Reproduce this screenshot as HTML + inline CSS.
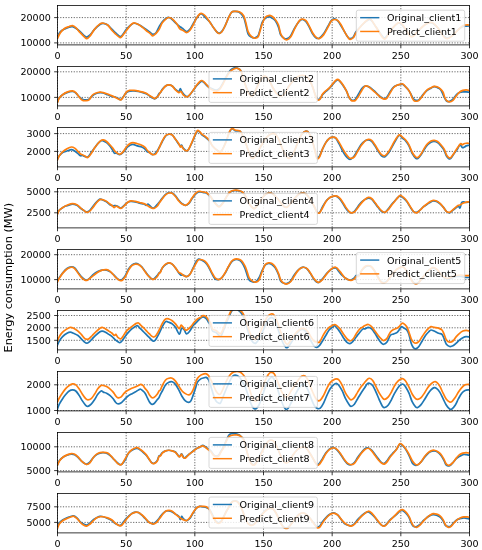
<!DOCTYPE html>
<html><head><meta charset="utf-8"><style>
html,body{margin:0;padding:0;background:#fff;width:482px;height:550px;overflow:hidden}
svg{display:block}
#w{filter:none;width:482px;height:550px}
.t{font-family:"DejaVu Sans","Liberation Sans",sans-serif;font-size:9.56px;fill:#000}
.gr{stroke:#000;stroke-width:1.0;stroke-opacity:0.6;stroke-dasharray:1.2 1.5;fill:none}
</style></head><body><div id="w">
<svg width="482" height="550" viewBox="0 0 482 550">
<rect width="482" height="550" fill="#fff"/>
<defs>
<clipPath id="c0"><rect x="57.5" y="5.4" width="412.0" height="39.5"/></clipPath>
<clipPath id="c1"><rect x="57.5" y="66.4" width="412.0" height="39.5"/></clipPath>
<clipPath id="c2"><rect x="57.5" y="127.4" width="412.0" height="39.5"/></clipPath>
<clipPath id="c3"><rect x="57.5" y="188.4" width="412.0" height="39.5"/></clipPath>
<clipPath id="c4"><rect x="57.5" y="249.4" width="412.0" height="39.5"/></clipPath>
<clipPath id="c5"><rect x="57.5" y="310.4" width="412.0" height="39.5"/></clipPath>
<clipPath id="c6"><rect x="57.5" y="371.4" width="412.0" height="39.5"/></clipPath>
<clipPath id="c7"><rect x="57.5" y="432.4" width="412.0" height="39.5"/></clipPath>
<clipPath id="c8"><rect x="57.5" y="493.4" width="412.0" height="39.5"/></clipPath>
</defs>
<g>
<g><line x1="57.50" y1="5.4" x2="57.50" y2="44.9" class="gr"/><line x1="126.17" y1="5.4" x2="126.17" y2="44.9" class="gr"/><line x1="194.83" y1="5.4" x2="194.83" y2="44.9" class="gr"/><line x1="263.50" y1="5.4" x2="263.50" y2="44.9" class="gr"/><line x1="332.17" y1="5.4" x2="332.17" y2="44.9" class="gr"/><line x1="400.83" y1="5.4" x2="400.83" y2="44.9" class="gr"/><line x1="469.50" y1="5.4" x2="469.50" y2="44.9" class="gr"/><line x1="57.5" y1="17.6" x2="469.5" y2="17.6" class="gr"/><line x1="57.5" y1="42.9" x2="469.5" y2="42.9" class="gr"/><path d="M57.50,36.21 C57.98,35.44 59.18,32.80 60.40,31.59 C61.61,30.38 63.33,29.68 64.80,28.95 C66.26,28.22 67.91,27.56 69.20,27.19 C70.48,26.82 71.39,26.57 72.49,26.75 C73.59,26.93 74.51,27.48 75.79,28.29 C77.08,29.10 78.72,30.31 80.19,31.59 C81.66,32.87 83.49,35.07 84.59,35.99 C85.69,36.90 85.87,37.27 86.79,37.09 C87.70,36.90 88.80,36.17 90.09,34.89 C91.37,33.61 92.84,31.11 94.49,29.39 C96.13,27.67 98.52,25.54 99.98,24.55 C101.45,23.56 102.00,23.38 103.28,23.45 C104.57,23.53 106.21,24.00 107.68,24.99 C109.15,25.98 110.80,28.11 112.08,29.39 C113.36,30.67 114.09,31.52 115.38,32.69 C116.66,33.86 118.68,35.95 119.78,36.43 C120.88,36.90 120.88,36.72 121.98,35.55 C123.07,34.37 124.91,31.15 126.37,29.39 C127.84,27.63 129.49,26.02 130.77,24.99 C132.05,23.97 132.79,23.31 134.07,23.23 C135.35,23.16 137.00,23.89 138.47,24.55 C139.93,25.21 141.58,26.38 142.87,27.19 C144.15,28.00 144.88,28.47 146.17,29.39 C147.45,30.31 149.46,31.88 150.56,32.69 C151.66,33.50 151.85,34.23 152.76,34.23 C153.68,34.23 154.99,33.95 156.06,32.69 C157.13,31.42 158.14,28.47 159.18,26.64 C160.22,24.81 161.05,23.14 162.30,21.69 C163.55,20.25 165.60,18.65 166.70,17.95 C167.80,17.26 167.98,17.26 168.90,17.51 C169.81,17.77 170.91,18.43 172.20,19.49 C173.48,20.56 175.22,22.65 176.59,23.89 C177.97,25.14 179.43,26.20 180.44,26.97 C181.45,27.74 181.63,27.74 182.64,28.51 C183.65,29.28 185.30,31.44 186.49,31.59 C187.68,31.74 188.69,30.67 189.79,29.39 C190.89,28.11 191.99,25.72 193.09,23.89 C194.19,22.06 195.29,19.97 196.39,18.39 C197.49,16.82 198.77,15.17 199.68,14.44 C200.60,13.70 200.97,13.52 201.88,14.00 C202.80,14.47 203.90,16.01 205.18,17.29 C206.47,18.58 208.11,19.86 209.58,21.69 C211.05,23.53 212.51,26.38 213.98,28.29 C215.45,30.20 217.09,32.58 218.38,33.13 C219.66,33.68 220.58,32.76 221.68,31.59 C222.78,30.42 223.88,28.29 224.98,26.09 C226.07,23.89 227.17,20.70 228.27,18.39 C229.37,16.09 230.47,13.41 231.57,12.24 C232.67,11.06 233.59,11.36 234.87,11.36 C236.15,11.36 237.80,11.25 239.27,12.24 C240.74,13.23 242.57,15.17 243.67,17.29 C244.77,19.42 245.13,22.24 245.87,24.99 C246.60,27.74 247.15,31.77 248.07,33.79 C248.98,35.80 250.27,36.43 251.37,37.09 C252.46,37.75 253.56,37.93 254.66,37.75 C255.76,37.56 257.05,37.38 257.96,35.99 C258.88,34.59 259.46,31.68 260.16,29.39 C260.86,27.10 261.32,24.08 262.18,22.24 C263.04,20.41 264.23,19.33 265.30,18.39 C266.37,17.46 267.50,16.71 268.60,16.63 C269.70,16.56 270.80,17.29 271.90,17.95 C273.00,18.61 274.10,19.05 275.20,20.59 C276.29,22.13 277.58,24.81 278.49,27.19 C279.41,29.57 279.78,33.06 280.69,34.89 C281.61,36.72 282.89,37.56 283.99,38.19 C285.09,38.81 286.19,38.99 287.29,38.63 C288.39,38.26 289.49,37.53 290.59,35.99 C291.69,34.45 292.79,31.41 293.89,29.39 C294.99,27.37 296.09,25.43 297.19,23.89 C298.29,22.35 299.57,20.89 300.49,20.15 C301.40,19.42 301.77,19.24 302.68,19.49 C303.60,19.75 304.88,20.41 305.98,21.69 C307.08,22.98 308.18,25.17 309.28,27.19 C310.38,29.21 311.48,32.03 312.58,33.79 C313.68,35.55 314.78,37.01 315.88,37.75 C316.98,38.48 317.90,38.85 319.18,38.19 C320.46,37.53 322.11,35.80 323.58,33.79 C325.04,31.77 326.69,28.29 327.98,26.09 C329.26,23.89 330.17,21.80 331.27,20.59 C332.37,19.38 333.47,18.76 334.57,18.83 C335.67,18.91 336.77,19.82 337.87,21.03 C338.97,22.24 340.07,24.33 341.17,26.09 C342.27,27.85 343.37,29.76 344.47,31.59 C345.57,33.42 346.85,35.91 347.77,37.09 C348.68,38.26 349.05,38.63 349.97,38.63 C350.88,38.63 352.25,38.23 353.27,37.09 C354.28,35.95 354.61,33.81 356.06,31.79 C357.52,29.78 360.01,26.97 362.00,25.00 C363.99,23.03 366.50,20.83 368.00,20.00 C369.50,19.17 369.67,18.83 371.00,20.00 C372.33,21.17 374.00,24.17 376.00,27.00 C378.00,29.83 381.33,35.33 383.00,37.00 C384.67,38.67 384.67,38.17 386.00,37.00 C387.33,35.83 389.00,32.33 391.00,30.00 C393.00,27.67 396.17,23.83 398.00,23.00 C399.83,22.17 400.33,23.33 402.00,25.00 C403.67,26.67 406.33,31.17 408.00,33.00 C409.67,34.83 410.33,36.33 412.00,36.00 C413.67,35.67 415.67,33.00 418.00,31.00 C420.33,29.00 423.67,25.33 426.00,24.00 C428.33,22.67 430.00,22.33 432.00,23.00 C434.00,23.67 436.00,25.83 438.00,28.00 C440.00,30.17 442.33,34.33 444.00,36.00 C445.67,37.67 446.50,38.17 448.00,38.00 C449.50,37.83 451.17,36.50 453.00,35.00 C454.83,33.50 457.33,30.42 459.00,29.00 C460.67,27.58 461.83,26.97 463.00,26.50 C464.17,26.03 464.92,26.28 466.00,26.20 C467.08,26.12 468.92,26.03 469.50,26.00" fill="none" stroke="#1f77b4" stroke-width="1.7" stroke-linejoin="round" stroke-linecap="square" clip-path="url(#c0)"/><path d="M57.50,38.41 C57.98,37.45 59.18,34.37 60.40,32.69 C61.61,31.00 63.33,29.32 64.80,28.29 C66.26,27.26 67.91,26.97 69.20,26.53 C70.48,26.09 71.39,25.47 72.49,25.65 C73.59,25.83 74.51,26.46 75.79,27.63 C77.08,28.80 78.72,31.11 80.19,32.69 C81.66,34.26 83.49,36.10 84.59,37.09 C85.69,38.08 85.87,38.81 86.79,38.63 C87.70,38.44 88.80,37.53 90.09,35.99 C91.37,34.45 92.84,31.41 94.49,29.39 C96.13,27.37 98.52,24.92 99.98,23.89 C101.45,22.87 102.00,23.05 103.28,23.23 C104.57,23.42 106.21,23.78 107.68,24.99 C109.15,26.20 110.80,29.02 112.08,30.49 C113.36,31.96 114.09,32.62 115.38,33.79 C116.66,34.96 118.68,37.09 119.78,37.53 C120.88,37.97 120.88,37.60 121.98,36.43 C123.07,35.25 124.91,32.40 126.37,30.49 C127.84,28.58 129.49,26.27 130.77,24.99 C132.05,23.71 132.79,22.87 134.07,22.79 C135.35,22.72 137.00,23.75 138.47,24.55 C139.93,25.36 141.58,26.64 142.87,27.63 C144.15,28.62 144.88,29.46 146.17,30.49 C147.45,31.52 149.46,32.87 150.56,33.79 C151.66,34.70 151.85,36.06 152.76,35.99 C153.68,35.91 154.99,34.45 156.06,33.35 C157.13,32.25 158.14,31.15 159.18,29.39 C160.22,27.63 161.05,24.63 162.30,22.79 C163.55,20.96 165.60,19.27 166.70,18.39 C167.80,17.51 167.98,17.44 168.90,17.51 C169.81,17.59 170.91,17.84 172.20,18.83 C173.48,19.82 175.31,21.77 176.59,23.45 C177.88,25.14 178.79,27.78 179.89,28.95 C180.99,30.12 182.09,29.87 183.19,30.49 C184.29,31.11 185.39,32.69 186.49,32.69 C187.59,32.69 188.69,31.77 189.79,30.49 C190.89,29.21 191.99,27.01 193.09,24.99 C194.19,22.98 195.29,20.23 196.39,18.39 C197.49,16.56 198.77,14.80 199.68,14.00 C200.60,13.19 200.97,13.26 201.88,13.56 C202.80,13.85 203.90,14.40 205.18,15.76 C206.47,17.11 208.11,19.60 209.58,21.69 C211.05,23.78 212.51,26.35 213.98,28.29 C215.45,30.23 217.09,32.73 218.38,33.35 C219.66,33.97 220.58,33.24 221.68,32.03 C222.78,30.82 223.88,28.36 224.98,26.09 C226.07,23.82 227.17,20.70 228.27,18.39 C229.37,16.09 230.47,13.41 231.57,12.24 C232.67,11.06 233.59,11.43 234.87,11.36 C236.15,11.28 237.80,11.06 239.27,11.80 C240.74,12.53 242.57,13.92 243.67,15.76 C244.77,17.59 245.13,20.15 245.87,22.79 C246.60,25.43 247.15,29.32 248.07,31.59 C248.98,33.86 250.27,35.33 251.37,36.43 C252.46,37.53 253.56,38.08 254.66,38.19 C255.76,38.30 257.05,38.37 257.96,37.09 C258.88,35.80 259.46,32.69 260.16,30.49 C260.86,28.29 261.32,26.09 262.18,23.89 C263.04,21.69 264.23,18.69 265.30,17.29 C266.37,15.90 267.50,15.72 268.60,15.54 C269.70,15.35 270.80,15.54 271.90,16.20 C273.00,16.85 274.10,18.03 275.20,19.49 C276.29,20.96 277.58,22.61 278.49,24.99 C279.41,27.37 279.78,31.52 280.69,33.79 C281.61,36.06 282.89,37.64 283.99,38.63 C285.09,39.62 286.19,39.98 287.29,39.73 C288.39,39.47 289.49,38.63 290.59,37.09 C291.69,35.55 292.79,32.69 293.89,30.49 C294.99,28.29 296.09,25.69 297.19,23.89 C298.29,22.10 299.57,20.52 300.49,19.71 C301.40,18.91 301.77,18.91 302.68,19.05 C303.60,19.20 304.88,19.42 305.98,20.59 C307.08,21.77 308.18,24.08 309.28,26.09 C310.38,28.11 311.48,30.86 312.58,32.69 C313.68,34.52 314.78,36.10 315.88,37.09 C316.98,38.08 317.90,38.99 319.18,38.63 C320.46,38.26 322.11,36.79 323.58,34.89 C325.04,32.98 326.69,29.50 327.98,27.19 C329.26,24.88 330.17,22.32 331.27,21.03 C332.37,19.75 333.47,19.57 334.57,19.49 C335.67,19.42 336.77,19.68 337.87,20.59 C338.97,21.51 340.07,23.16 341.17,24.99 C342.27,26.82 343.37,29.57 344.47,31.59 C345.57,33.61 346.85,35.80 347.77,37.09 C348.68,38.37 349.05,39.18 349.97,39.29 C350.88,39.40 352.25,38.82 353.27,37.75 C354.28,36.67 354.61,34.97 356.06,32.84 C357.52,30.72 360.01,27.22 362.00,25.00 C363.99,22.78 366.50,20.42 368.00,19.50 C369.50,18.58 369.67,18.25 371.00,19.50 C372.33,20.75 374.00,23.92 376.00,27.00 C378.00,30.08 381.33,36.17 383.00,38.00 C384.67,39.83 384.67,39.33 386.00,38.00 C387.33,36.67 389.00,32.50 391.00,30.00 C393.00,27.50 396.17,24.00 398.00,23.00 C399.83,22.00 400.33,22.33 402.00,24.00 C403.67,25.67 406.33,30.83 408.00,33.00 C409.67,35.17 410.33,37.33 412.00,37.00 C413.67,36.67 415.67,33.17 418.00,31.00 C420.33,28.83 423.67,25.42 426.00,24.00 C428.33,22.58 430.00,21.83 432.00,22.50 C434.00,23.17 436.00,25.58 438.00,28.00 C440.00,30.42 442.33,35.25 444.00,37.00 C445.67,38.75 446.50,38.83 448.00,38.50 C449.50,38.17 451.17,36.58 453.00,35.00 C454.83,33.42 457.33,30.58 459.00,29.00 C460.67,27.42 461.83,26.17 463.00,25.50 C464.17,24.83 464.92,25.08 466.00,25.00 C467.08,24.92 468.92,25.00 469.50,25.00" fill="none" stroke="#ff7f0e" stroke-width="1.7" stroke-linejoin="round" stroke-linecap="square" clip-path="url(#c0)"/><rect x="356.32000000000005" y="10.2" width="108.4" height="31.0" rx="1.9" fill="#fff" fill-opacity="0.84" stroke="#ccc" stroke-opacity="0.8" stroke-width="0.95"/><line x1="360.15000000000003" y1="17.68" x2="379.28000000000003" y2="17.68" stroke="#1f77b4" stroke-width="1.45"/><line x1="360.15000000000003" y1="31.46" x2="379.28000000000003" y2="31.46" stroke="#ff7f0e" stroke-width="1.45"/><text x="386.9200000000001" y="21.28" class="t">Original_client1</text><text x="386.9200000000001" y="35.06" class="t">Predict_client1</text><rect x="57.5" y="5.4" width="412.0" height="39.5" fill="none" stroke="#000" stroke-width="0.78"/><line x1="54.15" y1="17.6" x2="57.5" y2="17.6" stroke="#000" stroke-width="0.78"/><text x="50.8" y="21.1" class="t" text-anchor="end">20000</text><line x1="54.15" y1="42.9" x2="57.5" y2="42.9" stroke="#000" stroke-width="0.78"/><text x="50.8" y="46.4" class="t" text-anchor="end">10000</text><line x1="57.50" y1="44.9" x2="57.50" y2="48.25" stroke="#000" stroke-width="0.78"/><text x="57.50" y="58.8" class="t" text-anchor="middle">0</text><line x1="126.17" y1="44.9" x2="126.17" y2="48.25" stroke="#000" stroke-width="0.78"/><text x="126.17" y="58.8" class="t" text-anchor="middle">50</text><line x1="194.83" y1="44.9" x2="194.83" y2="48.25" stroke="#000" stroke-width="0.78"/><text x="194.83" y="58.8" class="t" text-anchor="middle">100</text><line x1="263.50" y1="44.9" x2="263.50" y2="48.25" stroke="#000" stroke-width="0.78"/><text x="263.50" y="58.8" class="t" text-anchor="middle">150</text><line x1="332.17" y1="44.9" x2="332.17" y2="48.25" stroke="#000" stroke-width="0.78"/><text x="332.17" y="58.8" class="t" text-anchor="middle">200</text><line x1="400.83" y1="44.9" x2="400.83" y2="48.25" stroke="#000" stroke-width="0.78"/><text x="400.83" y="58.8" class="t" text-anchor="middle">250</text><line x1="469.50" y1="44.9" x2="469.50" y2="48.25" stroke="#000" stroke-width="0.78"/><text x="469.50" y="58.8" class="t" text-anchor="middle">300</text></g>
<g><line x1="57.50" y1="66.4" x2="57.50" y2="105.9" class="gr"/><line x1="126.17" y1="66.4" x2="126.17" y2="105.9" class="gr"/><line x1="194.83" y1="66.4" x2="194.83" y2="105.9" class="gr"/><line x1="263.50" y1="66.4" x2="263.50" y2="105.9" class="gr"/><line x1="332.17" y1="66.4" x2="332.17" y2="105.9" class="gr"/><line x1="400.83" y1="66.4" x2="400.83" y2="105.9" class="gr"/><line x1="469.50" y1="66.4" x2="469.50" y2="105.9" class="gr"/><line x1="57.5" y1="71.8" x2="469.5" y2="71.8" class="gr"/><line x1="57.5" y1="97.4" x2="469.5" y2="97.4" class="gr"/><path d="M57.50,101.83 C57.80,101.20 58.45,99.26 59.30,98.09 C60.15,96.91 61.31,95.70 62.60,94.79 C63.88,93.87 65.35,93.14 67.00,92.59 C68.65,92.04 71.03,91.42 72.49,91.49 C73.96,91.56 74.69,92.19 75.79,93.03 C76.89,93.87 77.99,95.52 79.09,96.55 C80.19,97.57 81.29,98.64 82.39,99.19 C83.49,99.74 84.59,99.85 85.69,99.85 C86.79,99.85 87.89,99.85 88.99,99.19 C90.09,98.53 91.19,96.80 92.29,95.89 C93.39,94.97 94.30,94.24 95.59,93.69 C96.87,93.14 98.70,92.70 99.98,92.59 C101.27,92.48 102.00,92.66 103.28,93.03 C104.57,93.40 106.21,94.20 107.68,94.79 C109.15,95.37 110.80,96.18 112.08,96.55 C113.36,96.91 114.28,96.62 115.38,96.99 C116.48,97.35 117.76,98.31 118.68,98.75 C119.59,99.19 120.14,99.92 120.88,99.63 C121.61,99.33 122.16,98.16 123.07,96.99 C123.99,95.81 125.27,93.58 126.37,92.59 C127.47,91.60 128.39,91.34 129.67,91.05 C130.96,90.76 132.60,90.76 134.07,90.83 C135.54,90.90 137.00,91.20 138.47,91.49 C139.93,91.78 141.58,92.22 142.87,92.59 C144.15,92.96 145.07,93.14 146.17,93.69 C147.27,94.24 148.37,95.15 149.46,95.89 C150.56,96.62 151.85,97.61 152.76,98.09 C153.68,98.56 154.23,98.93 154.96,98.75 C155.70,98.56 156.49,97.83 157.16,96.99 C157.83,96.14 158.45,94.42 159.00,93.69 C159.55,92.96 159.91,93.32 160.46,92.59 C161.01,91.86 161.44,90.39 162.30,89.29 C163.15,88.19 164.50,86.72 165.60,85.99 C166.70,85.26 167.80,84.89 168.90,84.89 C170.00,84.89 171.10,85.26 172.20,85.99 C173.29,86.72 174.39,88.37 175.49,89.29 C176.59,90.21 177.99,91.60 178.79,91.49 C179.60,91.38 179.86,88.63 180.33,88.63 C180.81,88.63 180.99,90.46 181.65,91.49 C182.31,92.52 183.37,93.95 184.29,94.79 C185.21,95.63 186.23,96.55 187.15,96.55 C188.07,96.55 188.80,95.81 189.79,94.79 C190.78,93.76 191.99,91.86 193.09,90.39 C194.19,88.92 195.29,87.27 196.39,85.99 C197.49,84.71 198.77,83.50 199.68,82.69 C200.60,81.89 201.15,81.15 201.88,81.15 C202.62,81.15 203.17,81.89 204.08,82.69 C205.00,83.50 206.31,85.09 207.38,85.99 C208.45,86.89 209.41,87.51 210.51,88.10 C211.61,88.68 212.92,89.18 214.00,89.50 C215.08,89.82 216.00,90.25 217.00,90.00 C218.00,89.75 219.00,89.17 220.00,88.00 C221.00,86.83 222.00,84.83 223.00,83.00 C224.00,81.17 225.00,78.83 226.00,77.00 C227.00,75.17 228.00,73.33 229.00,72.00 C230.00,70.67 230.92,69.72 232.00,69.00 C233.08,68.28 234.50,67.78 235.50,67.70 C236.50,67.62 237.08,67.95 238.00,68.50 C238.92,69.05 240.00,68.92 241.00,71.00 C242.00,73.08 242.83,77.67 244.00,81.00 C245.17,84.33 246.83,88.67 248.00,91.00 C249.17,93.33 250.00,94.67 251.00,95.00 C252.00,95.33 252.83,94.67 254.00,93.00 C255.17,91.33 256.67,87.50 258.00,85.00 C259.33,82.50 260.83,79.50 262.00,78.00 C263.17,76.50 263.83,75.67 265.00,76.00 C266.17,76.33 267.67,78.00 269.00,80.00 C270.33,82.00 271.67,85.83 273.00,88.00 C274.33,90.17 275.67,91.83 277.00,93.00 C278.33,94.17 279.67,95.17 281.00,95.00 C282.33,94.83 283.67,93.50 285.00,92.00 C286.33,90.50 287.50,88.00 289.00,86.00 C290.50,84.00 292.33,81.50 294.00,80.00 C295.67,78.50 297.33,77.67 299.00,77.00 C300.67,76.33 302.33,75.67 304.00,76.00 C305.67,76.33 307.50,77.00 309.00,79.00 C310.50,81.00 311.75,84.86 313.00,88.00 C314.25,91.14 315.39,95.95 316.49,97.81 C317.59,99.68 318.62,99.69 319.62,99.19 C320.62,98.68 321.45,96.07 322.48,94.79 C323.50,93.51 324.68,92.52 325.78,91.49 C326.88,90.46 327.98,89.73 329.07,88.63 C330.17,87.53 331.27,86.14 332.37,84.89 C333.47,83.65 334.76,82.00 335.67,81.15 C336.59,80.31 337.14,79.76 337.87,79.83 C338.60,79.91 339.15,80.57 340.07,81.59 C340.99,82.62 342.27,84.34 343.37,85.99 C344.47,87.64 345.75,89.66 346.67,91.49 C347.58,93.32 348.13,95.63 348.87,96.99 C349.60,98.34 350.33,99.08 351.07,99.63 C351.80,100.18 352.53,100.36 353.27,100.29 C354.00,100.21 354.55,100.29 355.46,99.19 C356.38,98.09 357.66,95.52 358.76,93.69 C359.86,91.86 360.99,89.47 362.06,88.19 C363.13,86.91 364.14,86.25 365.18,85.99 C366.22,85.74 367.23,86.21 368.30,86.65 C369.37,87.09 370.50,87.82 371.60,88.63 C372.70,89.44 373.80,90.46 374.90,91.49 C376.00,92.52 377.10,93.80 378.20,94.79 C379.29,95.78 380.39,96.77 381.49,97.43 C382.59,98.09 383.88,98.82 384.79,98.75 C385.71,98.67 386.08,98.20 386.99,96.99 C387.91,95.78 389.19,93.14 390.29,91.49 C391.39,89.84 392.49,88.12 393.59,87.09 C394.69,86.07 395.79,85.77 396.89,85.33 C397.99,84.89 399.27,84.64 400.19,84.45 C401.10,84.27 401.65,83.98 402.39,84.23 C403.12,84.49 403.67,85.15 404.59,85.99 C405.50,86.83 406.97,88.19 407.88,89.29 C408.80,90.39 409.35,91.31 410.08,92.59 C410.82,93.87 411.55,95.81 412.28,96.99 C413.02,98.16 413.57,99.08 414.48,99.63 C415.40,100.18 416.86,100.43 417.78,100.29 C418.70,100.14 419.06,99.74 419.98,98.75 C420.90,97.76 422.18,95.67 423.28,94.35 C424.38,93.03 425.29,91.86 426.58,90.83 C427.86,89.80 429.69,88.89 430.98,88.19 C432.26,87.49 433.17,86.72 434.27,86.65 C435.37,86.58 436.47,87.20 437.57,87.75 C438.67,88.30 439.86,88.59 440.87,89.95 C441.88,91.31 442.70,94.06 443.62,95.89 C444.54,97.72 445.36,100.03 446.37,100.95 C447.38,101.86 448.57,101.68 449.67,101.39 C450.77,101.09 451.87,100.29 452.97,99.19 C454.07,98.09 455.17,95.89 456.27,94.79 C457.37,93.69 458.46,93.07 459.56,92.59 C460.66,92.11 461.76,92.04 462.86,91.93 C463.96,91.82 465.17,91.89 466.16,91.93 C467.15,91.97 468.36,92.11 468.80,92.15" fill="none" stroke="#1f77b4" stroke-width="1.7" stroke-linejoin="round" stroke-linecap="square" clip-path="url(#c1)"/><path d="M57.50,102.49 C57.80,101.75 58.45,99.37 59.30,98.09 C60.15,96.80 61.31,95.78 62.60,94.79 C63.88,93.80 65.35,92.81 67.00,92.15 C68.65,91.49 71.03,90.76 72.49,90.83 C73.96,90.90 74.69,91.56 75.79,92.59 C76.89,93.62 77.99,95.70 79.09,96.99 C80.19,98.27 81.29,99.66 82.39,100.29 C83.49,100.91 84.59,100.80 85.69,100.73 C86.79,100.65 87.89,100.76 88.99,99.85 C90.09,98.93 91.19,96.33 92.29,95.23 C93.39,94.13 94.30,93.76 95.59,93.25 C96.87,92.74 98.70,92.26 99.98,92.15 C101.27,92.04 102.00,92.26 103.28,92.59 C104.57,92.92 106.21,93.58 107.68,94.13 C109.15,94.68 110.80,95.34 112.08,95.89 C113.36,96.44 114.28,96.88 115.38,97.43 C116.48,97.98 117.76,98.78 118.68,99.19 C119.59,99.59 120.14,100.14 120.88,99.85 C121.61,99.55 122.16,98.71 123.07,97.43 C123.99,96.14 125.27,93.32 126.37,92.15 C127.47,90.98 128.39,90.68 129.67,90.39 C130.96,90.10 132.60,90.28 134.07,90.39 C135.54,90.50 137.00,90.76 138.47,91.05 C139.93,91.34 141.58,91.78 142.87,92.15 C144.15,92.52 145.07,92.70 146.17,93.25 C147.27,93.80 148.37,94.75 149.46,95.45 C150.56,96.14 151.85,96.91 152.76,97.43 C153.68,97.94 154.23,98.60 154.96,98.53 C155.70,98.45 156.49,97.61 157.16,96.99 C157.83,96.36 158.45,95.59 159.00,94.79 C159.55,93.98 159.91,92.96 160.46,92.15 C161.01,91.34 161.44,90.98 162.30,89.95 C163.15,88.92 164.50,86.83 165.60,85.99 C166.70,85.15 167.80,84.89 168.90,84.89 C170.00,84.89 171.10,85.15 172.20,85.99 C173.29,86.83 174.39,88.85 175.49,89.95 C176.59,91.05 177.88,92.33 178.79,92.59 C179.71,92.85 180.26,91.12 180.99,91.49 C181.72,91.86 182.16,93.87 183.19,94.79 C184.22,95.70 186.05,96.99 187.15,96.99 C188.25,96.99 188.80,95.89 189.79,94.79 C190.78,93.69 191.99,91.93 193.09,90.39 C194.19,88.85 195.29,87.02 196.39,85.55 C197.49,84.09 198.77,82.44 199.68,81.59 C200.60,80.75 201.15,80.42 201.88,80.49 C202.62,80.57 203.17,81.19 204.08,82.03 C205.00,82.88 206.31,84.42 207.38,85.55 C208.45,86.68 209.41,87.99 210.51,88.82 C211.61,89.64 212.92,90.14 214.00,90.50 C215.08,90.86 216.00,91.25 217.00,91.00 C218.00,90.75 219.00,90.17 220.00,89.00 C221.00,87.83 222.00,85.83 223.00,84.00 C224.00,82.17 225.00,79.83 226.00,78.00 C227.00,76.17 228.00,74.33 229.00,73.00 C230.00,71.67 230.92,70.78 232.00,70.00 C233.08,69.22 234.50,68.53 235.50,68.30 C236.50,68.07 237.08,68.15 238.00,68.60 C238.92,69.05 240.00,68.93 241.00,71.00 C242.00,73.07 242.83,77.50 244.00,81.00 C245.17,84.50 246.83,89.50 248.00,92.00 C249.17,94.50 250.00,95.67 251.00,96.00 C252.00,96.33 252.83,95.83 254.00,94.00 C255.17,92.17 256.67,87.67 258.00,85.00 C259.33,82.33 260.83,79.50 262.00,78.00 C263.17,76.50 263.83,75.67 265.00,76.00 C266.17,76.33 267.67,78.00 269.00,80.00 C270.33,82.00 271.67,85.67 273.00,88.00 C274.33,90.33 275.67,92.67 277.00,94.00 C278.33,95.33 279.67,96.17 281.00,96.00 C282.33,95.83 283.67,94.67 285.00,93.00 C286.33,91.33 287.50,88.17 289.00,86.00 C290.50,83.83 292.33,81.67 294.00,80.00 C295.67,78.33 297.33,76.75 299.00,76.00 C300.67,75.25 302.33,75.00 304.00,75.50 C305.67,76.00 307.50,76.92 309.00,79.00 C310.50,81.08 311.75,84.73 313.00,88.00 C314.25,91.27 315.39,96.71 316.49,98.64 C317.59,100.58 318.62,100.34 319.62,99.63 C320.62,98.91 321.45,95.81 322.48,94.35 C323.50,92.88 324.68,91.86 325.78,90.83 C326.88,89.80 327.98,89.29 329.07,88.19 C330.17,87.09 331.27,85.52 332.37,84.23 C333.47,82.95 334.76,81.30 335.67,80.49 C336.59,79.69 337.14,79.28 337.87,79.39 C338.60,79.50 339.15,80.13 340.07,81.15 C340.99,82.18 342.27,83.83 343.37,85.55 C344.47,87.27 345.75,89.58 346.67,91.49 C347.58,93.40 348.13,95.52 348.87,96.99 C349.60,98.45 350.33,99.63 351.07,100.29 C351.80,100.95 352.53,100.95 353.27,100.95 C354.00,100.95 354.55,101.13 355.46,100.29 C356.38,99.44 357.66,97.61 358.76,95.89 C359.86,94.17 360.99,91.58 362.06,89.95 C363.13,88.32 364.14,86.69 365.18,86.10 C366.22,85.52 367.23,85.90 368.30,86.43 C369.37,86.96 370.50,88.34 371.60,89.29 C372.70,90.24 373.80,91.16 374.90,92.15 C376.00,93.14 377.10,94.24 378.20,95.23 C379.29,96.22 380.39,97.43 381.49,98.09 C382.59,98.75 383.88,99.19 384.79,99.19 C385.71,99.19 386.08,99.19 386.99,98.09 C387.91,96.99 389.19,94.35 390.29,92.59 C391.39,90.83 392.49,88.74 393.59,87.53 C394.69,86.32 395.79,85.88 396.89,85.33 C397.99,84.78 399.27,84.49 400.19,84.23 C401.10,83.98 401.65,83.57 402.39,83.79 C403.12,84.01 403.67,84.64 404.59,85.55 C405.50,86.47 406.97,88.12 407.88,89.29 C408.80,90.46 409.35,91.12 410.08,92.59 C410.82,94.06 411.55,96.69 412.28,98.09 C413.02,99.48 413.57,100.47 414.48,100.95 C415.40,101.42 416.86,101.24 417.78,100.95 C418.70,100.65 419.06,100.21 419.98,99.19 C420.90,98.16 422.18,96.25 423.28,94.79 C424.38,93.32 425.29,91.56 426.58,90.39 C427.86,89.22 429.69,88.41 430.98,87.75 C432.26,87.09 433.17,86.54 434.27,86.43 C435.37,86.32 436.47,86.61 437.57,87.09 C438.67,87.57 439.96,88.45 440.87,89.29 C441.79,90.13 442.45,90.87 443.07,92.15 C443.69,93.43 444.06,95.63 444.61,96.99 C445.16,98.34 445.53,99.48 446.37,100.29 C447.21,101.09 448.57,101.83 449.67,101.83 C450.77,101.83 451.87,101.28 452.97,100.29 C454.07,99.30 455.17,97.24 456.27,95.89 C457.37,94.53 458.46,93.07 459.56,92.15 C460.66,91.23 461.76,90.76 462.86,90.39 C463.96,90.02 465.17,89.95 466.16,89.95 C467.15,89.95 468.36,90.32 468.80,90.39" fill="none" stroke="#ff7f0e" stroke-width="1.7" stroke-linejoin="round" stroke-linecap="square" clip-path="url(#c1)"/><rect x="209.0" y="71.4" width="108.4" height="31.0" rx="1.9" fill="#fff" fill-opacity="0.84" stroke="#ccc" stroke-opacity="0.8" stroke-width="0.95"/><line x1="212.83" y1="78.88000000000001" x2="231.96" y2="78.88000000000001" stroke="#1f77b4" stroke-width="1.45"/><line x1="212.83" y1="92.66000000000001" x2="231.96" y2="92.66000000000001" stroke="#ff7f0e" stroke-width="1.45"/><text x="239.6" y="82.48" class="t">Original_client2</text><text x="239.6" y="96.26" class="t">Predict_client2</text><rect x="57.5" y="66.4" width="412.0" height="39.5" fill="none" stroke="#000" stroke-width="0.78"/><line x1="54.15" y1="71.8" x2="57.5" y2="71.8" stroke="#000" stroke-width="0.78"/><text x="50.8" y="75.3" class="t" text-anchor="end">20000</text><line x1="54.15" y1="97.4" x2="57.5" y2="97.4" stroke="#000" stroke-width="0.78"/><text x="50.8" y="100.9" class="t" text-anchor="end">10000</text><line x1="57.50" y1="105.9" x2="57.50" y2="109.25" stroke="#000" stroke-width="0.78"/><text x="57.50" y="119.80000000000001" class="t" text-anchor="middle">0</text><line x1="126.17" y1="105.9" x2="126.17" y2="109.25" stroke="#000" stroke-width="0.78"/><text x="126.17" y="119.80000000000001" class="t" text-anchor="middle">50</text><line x1="194.83" y1="105.9" x2="194.83" y2="109.25" stroke="#000" stroke-width="0.78"/><text x="194.83" y="119.80000000000001" class="t" text-anchor="middle">100</text><line x1="263.50" y1="105.9" x2="263.50" y2="109.25" stroke="#000" stroke-width="0.78"/><text x="263.50" y="119.80000000000001" class="t" text-anchor="middle">150</text><line x1="332.17" y1="105.9" x2="332.17" y2="109.25" stroke="#000" stroke-width="0.78"/><text x="332.17" y="119.80000000000001" class="t" text-anchor="middle">200</text><line x1="400.83" y1="105.9" x2="400.83" y2="109.25" stroke="#000" stroke-width="0.78"/><text x="400.83" y="119.80000000000001" class="t" text-anchor="middle">250</text><line x1="469.50" y1="105.9" x2="469.50" y2="109.25" stroke="#000" stroke-width="0.78"/><text x="469.50" y="119.80000000000001" class="t" text-anchor="middle">300</text></g>
<g><line x1="57.50" y1="127.4" x2="57.50" y2="166.9" class="gr"/><line x1="126.17" y1="127.4" x2="126.17" y2="166.9" class="gr"/><line x1="194.83" y1="127.4" x2="194.83" y2="166.9" class="gr"/><line x1="263.50" y1="127.4" x2="263.50" y2="166.9" class="gr"/><line x1="332.17" y1="127.4" x2="332.17" y2="166.9" class="gr"/><line x1="400.83" y1="127.4" x2="400.83" y2="166.9" class="gr"/><line x1="469.50" y1="127.4" x2="469.50" y2="166.9" class="gr"/><line x1="57.5" y1="133.6" x2="469.5" y2="133.6" class="gr"/><line x1="57.5" y1="151.4" x2="469.5" y2="151.4" class="gr"/><path d="M57.50,159.09 C57.80,158.54 58.45,156.89 59.30,155.79 C60.15,154.69 61.31,153.30 62.60,152.49 C63.88,151.68 65.53,151.43 67.00,150.95 C68.46,150.47 70.11,149.63 71.39,149.63 C72.68,149.63 73.59,150.29 74.69,150.95 C75.79,151.61 77.00,152.78 77.99,153.59 C78.98,154.40 79.90,155.50 80.63,155.79 C81.36,156.08 81.73,155.24 82.39,155.35 C83.05,155.46 83.67,156.19 84.59,156.45 C85.51,156.70 86.79,157.55 87.89,156.89 C88.99,156.23 90.09,153.96 91.19,152.49 C92.29,151.02 93.39,149.56 94.49,148.09 C95.59,146.63 96.68,144.90 97.78,143.69 C98.88,142.48 100.17,141.31 101.08,140.83 C102.00,140.36 102.37,140.54 103.28,140.83 C104.20,141.13 105.48,141.75 106.58,142.59 C107.68,143.44 108.85,144.61 109.88,145.89 C110.91,147.17 112.01,149.08 112.74,150.29 C113.47,151.50 113.65,152.67 114.28,153.15 C114.90,153.63 115.56,152.89 116.48,153.15 C117.39,153.41 118.68,154.80 119.78,154.69 C120.88,154.58 121.98,153.59 123.07,152.49 C124.17,151.39 125.27,149.26 126.37,148.09 C127.47,146.92 128.57,146.08 129.67,145.45 C130.77,144.83 131.69,144.28 132.97,144.35 C134.25,144.43 135.90,145.45 137.37,145.89 C138.84,146.33 140.48,146.44 141.77,146.99 C143.05,147.54 144.15,148.38 145.07,149.19 C145.98,150.00 146.53,151.28 147.27,151.83 C148.00,152.38 148.55,152.01 149.46,152.49 C150.38,152.97 151.66,154.69 152.76,154.69 C153.86,154.69 154.99,153.68 156.06,152.49 C157.13,151.30 158.14,149.37 159.18,147.54 C160.22,145.71 161.23,143.42 162.30,141.49 C163.37,139.57 164.50,137.21 165.60,136.00 C166.70,134.79 167.80,134.42 168.90,134.24 C170.00,134.05 171.10,134.05 172.20,134.90 C173.29,135.74 174.39,137.72 175.49,139.29 C176.59,140.87 177.99,143.25 178.79,144.35 C179.60,145.45 179.86,145.75 180.33,145.89 C180.81,146.04 181.17,144.87 181.65,145.23 C182.13,145.60 182.38,147.14 183.19,148.09 C184.00,149.04 185.57,150.77 186.49,150.95 C187.41,151.13 187.77,150.58 188.69,149.19 C189.61,147.80 190.89,144.98 191.99,142.59 C193.09,140.21 194.37,136.80 195.29,134.90 C196.20,132.99 196.75,131.63 197.49,131.16 C198.22,130.68 198.95,131.41 199.68,132.04 C200.42,132.66 200.97,134.05 201.88,134.90 C202.80,135.74 204.08,136.25 205.18,137.10 C206.28,137.94 207.67,139.22 208.48,139.95 C209.29,140.69 209.35,140.49 210.02,141.49 C210.69,142.50 211.25,144.50 212.50,146.00 C213.75,147.50 216.05,149.63 217.50,150.50 C218.95,151.37 219.75,152.75 221.20,151.20 C222.65,149.65 224.85,144.32 226.20,141.20 C227.55,138.08 228.33,134.57 229.30,132.50 C230.27,130.43 231.05,129.12 232.00,128.80 C232.95,128.48 234.00,130.23 235.00,130.60 C236.00,130.97 237.17,130.90 238.00,131.00 C238.83,131.10 239.27,130.53 240.00,131.20 C240.73,131.87 241.40,132.92 242.40,135.00 C243.40,137.08 244.77,140.38 246.00,143.70 C247.23,147.02 248.72,152.52 249.80,154.90 C250.88,157.28 251.47,157.98 252.50,158.00 C253.53,158.02 254.58,157.00 256.00,155.00 C257.42,153.00 259.33,148.83 261.00,146.00 C262.67,143.17 264.33,140.00 266.00,138.00 C267.67,136.00 269.50,134.67 271.00,134.00 C272.50,133.33 273.67,133.00 275.00,134.00 C276.33,135.00 277.67,137.33 279.00,140.00 C280.33,142.67 281.67,147.17 283.00,150.00 C284.33,152.83 285.83,155.67 287.00,157.00 C288.17,158.33 288.83,158.83 290.00,158.00 C291.17,157.17 292.67,154.67 294.00,152.00 C295.33,149.33 296.67,145.00 298.00,142.00 C299.33,139.00 300.67,135.83 302.00,134.00 C303.33,132.17 304.83,131.17 306.00,131.00 C307.17,130.83 308.00,131.50 309.00,133.00 C310.00,134.50 311.00,137.17 312.00,140.00 C313.00,142.83 314.17,147.00 315.00,150.00 C315.83,153.00 316.21,157.02 316.98,157.99 C317.75,158.95 318.70,157.25 319.62,155.79 C320.53,154.32 321.45,151.39 322.48,149.19 C323.50,146.99 324.68,144.35 325.78,142.59 C326.88,140.83 327.98,139.55 329.07,138.63 C330.17,137.72 331.27,137.17 332.37,137.10 C333.47,137.02 334.57,137.10 335.67,138.20 C336.77,139.29 337.87,141.68 338.97,143.69 C340.07,145.71 341.17,148.27 342.27,150.29 C343.37,152.31 344.47,154.32 345.57,155.79 C346.67,157.25 347.95,158.54 348.87,159.09 C349.78,159.64 350.15,159.64 351.07,159.09 C351.98,158.54 353.27,157.25 354.37,155.79 C355.46,154.32 356.56,152.12 357.66,150.29 C358.76,148.46 359.80,146.31 360.96,144.79 C362.12,143.27 363.41,141.97 364.63,141.16 C365.85,140.36 367.14,139.90 368.30,139.95 C369.46,140.01 370.50,140.50 371.60,141.49 C372.70,142.48 373.80,144.24 374.90,145.89 C376.00,147.54 377.10,149.74 378.20,151.39 C379.29,153.04 380.39,154.87 381.49,155.79 C382.59,156.70 383.69,157.25 384.79,156.89 C385.89,156.52 386.99,155.06 388.09,153.59 C389.19,152.12 390.29,150.00 391.39,148.09 C392.49,146.19 393.59,144.10 394.69,142.15 C395.79,140.21 397.14,137.57 397.99,136.44 C398.83,135.30 399.01,135.04 399.75,135.34 C400.48,135.63 401.40,137.28 402.39,138.20 C403.38,139.11 404.59,139.55 405.68,140.83 C406.78,142.12 407.88,143.77 408.98,145.89 C410.08,148.02 411.18,151.57 412.28,153.59 C413.38,155.61 414.66,157.18 415.58,157.99 C416.50,158.79 416.86,158.98 417.78,158.43 C418.70,157.88 419.98,156.23 421.08,154.69 C422.18,153.15 423.28,150.84 424.38,149.19 C425.48,147.54 426.58,145.97 427.68,144.79 C428.78,143.62 429.88,142.70 430.98,142.15 C432.07,141.60 433.17,141.42 434.27,141.49 C435.37,141.57 436.47,141.86 437.57,142.59 C438.67,143.33 439.77,144.61 440.87,145.89 C441.97,147.17 443.25,148.64 444.17,150.29 C445.09,151.94 445.64,154.43 446.37,155.79 C447.10,157.14 447.84,157.99 448.57,158.43 C449.30,158.87 449.85,159.23 450.77,158.43 C451.68,157.62 452.97,155.13 454.07,153.59 C455.17,152.05 456.38,150.66 457.37,149.19 C458.35,147.72 459.18,145.07 460.00,144.79 C460.83,144.52 461.58,147.17 462.31,147.54 C463.05,147.91 463.76,147.27 464.40,146.99 C465.04,146.72 465.43,146.19 466.16,145.89 C466.89,145.60 468.36,145.34 468.80,145.23" fill="none" stroke="#1f77b4" stroke-width="1.7" stroke-linejoin="round" stroke-linecap="square" clip-path="url(#c2)"/><path d="M57.50,159.75 C57.80,159.09 58.45,157.11 59.30,155.79 C60.15,154.47 61.31,153.00 62.60,151.83 C63.88,150.66 65.53,149.56 67.00,148.75 C68.46,147.94 70.11,147.10 71.39,146.99 C72.68,146.88 73.59,147.36 74.69,148.09 C75.79,148.82 77.00,150.40 77.99,151.39 C78.98,152.38 79.90,153.48 80.63,154.03 C81.36,154.58 81.73,154.40 82.39,154.69 C83.05,154.98 83.67,155.31 84.59,155.79 C85.51,156.26 86.79,157.91 87.89,157.55 C88.99,157.18 90.09,155.17 91.19,153.59 C92.29,152.01 93.39,149.74 94.49,148.09 C95.59,146.44 96.68,144.98 97.78,143.69 C98.88,142.41 100.17,141.02 101.08,140.39 C102.00,139.77 102.37,139.77 103.28,139.95 C104.20,140.14 105.48,140.69 106.58,141.49 C107.68,142.30 108.85,143.69 109.88,144.79 C110.91,145.89 112.01,147.17 112.74,148.09 C113.47,149.01 113.65,149.56 114.28,150.29 C114.90,151.02 115.56,151.83 116.48,152.49 C117.39,153.15 118.68,154.36 119.78,154.25 C120.88,154.14 121.98,153.04 123.07,151.83 C124.17,150.62 125.27,148.35 126.37,146.99 C127.47,145.64 128.57,144.43 129.67,143.69 C130.77,142.96 131.69,142.59 132.97,142.59 C134.25,142.59 135.90,143.25 137.37,143.69 C138.84,144.13 140.48,144.61 141.77,145.23 C143.05,145.86 144.15,146.59 145.07,147.43 C145.98,148.27 146.53,149.45 147.27,150.29 C148.00,151.13 148.55,151.76 149.46,152.49 C150.38,153.22 151.66,154.51 152.76,154.69 C153.86,154.87 154.99,154.73 156.06,153.59 C157.13,152.45 158.14,150.00 159.18,147.87 C160.22,145.75 161.23,142.89 162.30,140.83 C163.37,138.78 164.50,136.66 165.60,135.56 C166.70,134.46 167.80,134.35 168.90,134.24 C170.00,134.13 171.10,134.05 172.20,134.90 C173.29,135.74 174.39,137.83 175.49,139.29 C176.59,140.76 177.99,142.41 178.79,143.69 C179.60,144.98 179.86,146.63 180.33,146.99 C180.81,147.36 181.17,145.60 181.65,145.89 C182.13,146.19 182.38,147.91 183.19,148.75 C184.00,149.59 185.57,150.88 186.49,150.95 C187.41,151.02 187.77,150.66 188.69,149.19 C189.61,147.72 190.89,144.65 191.99,142.15 C193.09,139.66 194.37,136.18 195.29,134.24 C196.20,132.29 196.75,130.94 197.49,130.50 C198.22,130.06 198.95,130.97 199.68,131.60 C200.42,132.22 200.97,133.43 201.88,134.24 C202.80,135.04 204.08,135.59 205.18,136.44 C206.28,137.28 207.67,138.45 208.48,139.29 C209.29,140.14 209.35,140.38 210.02,141.49 C210.69,142.61 211.25,144.50 212.50,146.00 C213.75,147.50 216.05,149.58 217.50,150.50 C218.95,151.42 219.75,153.00 221.20,151.50 C222.65,150.00 224.85,144.75 226.20,141.50 C227.55,138.25 228.33,134.17 229.30,132.00 C230.27,129.83 231.05,128.83 232.00,128.50 C232.95,128.17 234.00,129.67 235.00,130.00 C236.00,130.33 237.17,130.33 238.00,130.50 C238.83,130.67 239.27,130.25 240.00,131.00 C240.73,131.75 241.40,132.88 242.40,135.00 C243.40,137.12 244.77,140.38 246.00,143.70 C247.23,147.02 248.72,152.43 249.80,154.90 C250.88,157.37 251.47,158.48 252.50,158.50 C253.53,158.52 254.58,157.08 256.00,155.00 C257.42,152.92 259.33,148.83 261.00,146.00 C262.67,143.17 264.33,140.00 266.00,138.00 C267.67,136.00 269.50,134.67 271.00,134.00 C272.50,133.33 273.67,133.00 275.00,134.00 C276.33,135.00 277.67,137.33 279.00,140.00 C280.33,142.67 281.67,147.17 283.00,150.00 C284.33,152.83 285.83,155.67 287.00,157.00 C288.17,158.33 288.83,158.83 290.00,158.00 C291.17,157.17 292.67,154.67 294.00,152.00 C295.33,149.33 296.67,145.00 298.00,142.00 C299.33,139.00 300.67,135.83 302.00,134.00 C303.33,132.17 304.83,131.17 306.00,131.00 C307.17,130.83 308.00,131.50 309.00,133.00 C310.00,134.50 311.00,137.00 312.00,140.00 C313.00,143.00 314.17,147.93 315.00,151.00 C315.83,154.07 316.21,157.45 316.98,158.43 C317.75,159.41 318.70,158.43 319.62,156.89 C320.53,155.35 321.45,151.57 322.48,149.19 C323.50,146.81 324.68,144.35 325.78,142.59 C326.88,140.83 327.98,139.55 329.07,138.63 C330.17,137.72 331.27,137.24 332.37,137.10 C333.47,136.95 334.57,136.91 335.67,137.76 C336.77,138.60 337.87,140.43 338.97,142.15 C340.07,143.88 341.17,146.19 342.27,148.09 C343.37,150.00 344.47,152.01 345.57,153.59 C346.67,155.17 347.95,156.74 348.87,157.55 C349.78,158.35 350.15,158.54 351.07,158.43 C351.98,158.32 353.27,158.06 354.37,156.89 C355.46,155.72 356.56,153.22 357.66,151.39 C358.76,149.56 359.80,147.58 360.96,145.89 C362.12,144.21 363.41,142.37 364.63,141.27 C365.85,140.17 367.14,139.44 368.30,139.29 C369.46,139.15 370.50,139.48 371.60,140.39 C372.70,141.31 373.80,143.14 374.90,144.79 C376.00,146.44 377.10,148.64 378.20,150.29 C379.29,151.94 380.39,153.77 381.49,154.69 C382.59,155.61 383.69,156.15 384.79,155.79 C385.89,155.42 386.99,153.96 388.09,152.49 C389.19,151.02 390.29,148.93 391.39,146.99 C392.49,145.05 393.59,142.67 394.69,140.83 C395.79,139.00 397.14,136.99 397.99,136.00 C398.83,135.01 399.01,134.71 399.75,134.90 C400.48,135.08 401.40,136.25 402.39,137.10 C403.38,137.94 404.59,138.67 405.68,139.95 C406.78,141.24 407.88,142.70 408.98,144.79 C410.08,146.88 411.18,150.47 412.28,152.49 C413.38,154.51 414.66,156.04 415.58,156.89 C416.50,157.73 416.86,158.02 417.78,157.55 C418.70,157.07 419.98,155.61 421.08,154.03 C422.18,152.45 423.28,149.81 424.38,148.09 C425.48,146.37 426.58,144.87 427.68,143.69 C428.78,142.52 429.88,141.60 430.98,141.05 C432.07,140.50 433.17,140.32 434.27,140.39 C435.37,140.47 436.47,140.76 437.57,141.49 C438.67,142.23 439.77,143.51 440.87,144.79 C441.97,146.08 443.25,147.54 444.17,149.19 C445.09,150.84 445.64,153.30 446.37,154.69 C447.10,156.08 447.84,157.07 448.57,157.55 C449.30,158.02 449.85,158.28 450.77,157.55 C451.68,156.81 452.97,154.73 454.07,153.15 C455.17,151.57 456.28,149.67 457.37,148.09 C458.45,146.52 459.75,144.24 460.55,143.69 C461.36,143.14 461.64,144.79 462.20,144.79 C462.77,144.79 463.30,143.95 463.96,143.69 C464.62,143.44 465.36,143.33 466.16,143.25 C466.97,143.18 468.36,143.25 468.80,143.25" fill="none" stroke="#ff7f0e" stroke-width="1.7" stroke-linejoin="round" stroke-linecap="square" clip-path="url(#c2)"/><rect x="209.0" y="132.4" width="108.4" height="31.0" rx="1.9" fill="#fff" fill-opacity="0.84" stroke="#ccc" stroke-opacity="0.8" stroke-width="0.95"/><line x1="212.83" y1="139.88" x2="231.96" y2="139.88" stroke="#1f77b4" stroke-width="1.45"/><line x1="212.83" y1="153.66" x2="231.96" y2="153.66" stroke="#ff7f0e" stroke-width="1.45"/><text x="239.6" y="143.48" class="t">Original_client3</text><text x="239.6" y="157.26" class="t">Predict_client3</text><rect x="57.5" y="127.4" width="412.0" height="39.5" fill="none" stroke="#000" stroke-width="0.78"/><line x1="54.15" y1="133.6" x2="57.5" y2="133.6" stroke="#000" stroke-width="0.78"/><text x="50.8" y="137.1" class="t" text-anchor="end">3000</text><line x1="54.15" y1="151.4" x2="57.5" y2="151.4" stroke="#000" stroke-width="0.78"/><text x="50.8" y="154.9" class="t" text-anchor="end">2000</text><line x1="57.50" y1="166.9" x2="57.50" y2="170.25" stroke="#000" stroke-width="0.78"/><text x="57.50" y="180.8" class="t" text-anchor="middle">0</text><line x1="126.17" y1="166.9" x2="126.17" y2="170.25" stroke="#000" stroke-width="0.78"/><text x="126.17" y="180.8" class="t" text-anchor="middle">50</text><line x1="194.83" y1="166.9" x2="194.83" y2="170.25" stroke="#000" stroke-width="0.78"/><text x="194.83" y="180.8" class="t" text-anchor="middle">100</text><line x1="263.50" y1="166.9" x2="263.50" y2="170.25" stroke="#000" stroke-width="0.78"/><text x="263.50" y="180.8" class="t" text-anchor="middle">150</text><line x1="332.17" y1="166.9" x2="332.17" y2="170.25" stroke="#000" stroke-width="0.78"/><text x="332.17" y="180.8" class="t" text-anchor="middle">200</text><line x1="400.83" y1="166.9" x2="400.83" y2="170.25" stroke="#000" stroke-width="0.78"/><text x="400.83" y="180.8" class="t" text-anchor="middle">250</text><line x1="469.50" y1="166.9" x2="469.50" y2="170.25" stroke="#000" stroke-width="0.78"/><text x="469.50" y="180.8" class="t" text-anchor="middle">300</text></g>
<g><line x1="57.50" y1="188.4" x2="57.50" y2="227.9" class="gr"/><line x1="126.17" y1="188.4" x2="126.17" y2="227.9" class="gr"/><line x1="194.83" y1="188.4" x2="194.83" y2="227.9" class="gr"/><line x1="263.50" y1="188.4" x2="263.50" y2="227.9" class="gr"/><line x1="332.17" y1="188.4" x2="332.17" y2="227.9" class="gr"/><line x1="400.83" y1="188.4" x2="400.83" y2="227.9" class="gr"/><line x1="469.50" y1="188.4" x2="469.50" y2="227.9" class="gr"/><line x1="57.5" y1="191.8" x2="469.5" y2="191.8" class="gr"/><line x1="57.5" y1="212.8" x2="469.5" y2="212.8" class="gr"/><path d="M57.50,213.49 C57.80,212.94 58.27,211.29 59.30,210.19 C60.33,209.09 62.23,207.70 63.70,206.89 C65.16,206.09 66.63,205.83 68.10,205.35 C69.56,204.88 71.03,204.03 72.49,204.03 C73.96,204.03 75.61,204.69 76.89,205.35 C78.17,206.01 79.09,207.19 80.19,207.99 C81.29,208.80 82.39,209.53 83.49,210.19 C84.59,210.85 85.69,211.95 86.79,211.95 C87.89,211.95 88.99,211.22 90.09,210.19 C91.19,209.16 92.29,207.19 93.39,205.79 C94.49,204.40 95.59,202.93 96.68,201.83 C97.78,200.73 98.88,199.45 99.98,199.20 C101.08,198.94 102.18,199.85 103.28,200.29 C104.38,200.73 105.48,201.10 106.58,201.83 C107.68,202.57 108.76,204.03 109.88,204.69 C111.00,205.35 112.37,205.65 113.29,205.79 C114.20,205.94 114.66,205.50 115.38,205.57 C116.09,205.65 116.66,205.83 117.58,206.23 C118.49,206.64 119.78,208.14 120.88,207.99 C121.98,207.85 123.07,206.27 124.17,205.35 C125.27,204.44 126.37,203.15 127.47,202.49 C128.57,201.83 129.49,201.50 130.77,201.39 C132.05,201.28 133.70,201.54 135.17,201.83 C136.64,202.13 138.10,202.79 139.57,203.15 C141.03,203.52 142.87,203.67 143.97,204.03 C145.07,204.40 145.51,205.35 146.17,205.35 C146.83,205.35 147.38,204.03 147.93,204.03 C148.48,204.03 148.84,204.77 149.46,205.35 C150.09,205.94 150.93,207.11 151.66,207.55 C152.40,207.99 152.95,208.47 153.86,207.99 C154.78,207.52 156.24,205.70 157.16,204.69 C158.08,203.68 158.54,203.04 159.40,201.94 C160.26,200.84 161.27,199.36 162.30,198.10 C163.33,196.83 164.50,195.27 165.60,194.36 C166.70,193.44 167.80,192.82 168.90,192.60 C170.00,192.38 171.10,192.49 172.20,193.04 C173.29,193.59 174.39,194.69 175.49,195.90 C176.59,197.11 177.69,199.01 178.79,200.29 C179.89,201.58 180.99,202.75 182.09,203.59 C183.19,204.44 184.29,205.35 185.39,205.35 C186.49,205.35 187.59,204.69 188.69,203.59 C189.79,202.49 190.89,200.29 191.99,198.76 C193.09,197.22 194.26,195.46 195.29,194.36 C196.31,193.26 197.23,192.56 198.15,192.16 C199.06,191.75 199.79,191.86 200.78,191.94 C201.77,192.01 203.17,192.41 204.08,192.60 C205.00,192.78 205.55,192.67 206.28,193.04 C207.02,193.40 207.75,194.14 208.48,194.80 C209.21,195.46 209.93,196.13 210.68,197.00 C211.43,197.86 211.86,198.58 213.00,200.00 C214.14,201.42 216.33,204.50 217.50,205.50 C218.67,206.50 218.92,206.75 220.00,206.00 C221.08,205.25 222.83,202.67 224.00,201.00 C225.17,199.33 226.00,197.47 227.00,196.00 C228.00,194.53 229.00,193.07 230.00,192.20 C231.00,191.33 232.00,191.10 233.00,190.80 C234.00,190.50 235.00,190.37 236.00,190.40 C237.00,190.43 237.93,190.70 239.00,191.00 C240.07,191.30 241.40,191.45 242.40,192.20 C243.40,192.95 244.18,194.25 245.00,195.50 C245.82,196.75 246.47,198.12 247.30,199.70 C248.13,201.28 249.05,203.62 250.00,205.00 C250.95,206.38 252.17,207.50 253.00,208.00 C253.83,208.50 254.00,208.83 255.00,208.00 C256.00,207.17 257.67,204.83 259.00,203.00 C260.33,201.17 261.83,198.50 263.00,197.00 C264.17,195.50 264.83,194.67 266.00,194.00 C267.17,193.33 268.83,193.00 270.00,193.00 C271.17,193.00 271.83,193.17 273.00,194.00 C274.17,194.83 275.67,196.50 277.00,198.00 C278.33,199.50 279.83,201.58 281.00,203.00 C282.17,204.42 283.00,205.83 284.00,206.50 C285.00,207.17 285.83,207.58 287.00,207.00 C288.17,206.42 289.67,204.50 291.00,203.00 C292.33,201.50 293.67,199.50 295.00,198.00 C296.33,196.50 297.67,194.83 299.00,194.00 C300.33,193.17 301.83,193.00 303.00,193.00 C304.17,193.00 304.83,193.00 306.00,194.00 C307.17,195.00 308.67,197.00 310.00,199.00 C311.33,201.00 312.84,203.79 314.00,206.00 C315.16,208.21 316.05,211.18 316.99,212.24 C317.93,213.31 318.70,213.28 319.62,212.39 C320.53,211.50 321.45,208.72 322.48,206.89 C323.50,205.06 324.68,202.86 325.78,201.39 C326.88,199.93 327.98,198.90 329.07,198.10 C330.17,197.29 331.27,196.92 332.37,196.56 C333.47,196.19 334.57,195.64 335.67,195.90 C336.77,196.15 337.87,197.00 338.97,198.10 C340.07,199.20 341.17,200.84 342.27,202.49 C343.37,204.14 344.47,206.42 345.57,207.99 C346.67,209.57 347.95,211.14 348.87,211.95 C349.78,212.76 350.15,212.94 351.07,212.83 C351.98,212.72 353.27,212.28 354.37,211.29 C355.46,210.30 356.56,208.36 357.66,206.89 C358.76,205.43 359.80,203.70 360.96,202.49 C362.12,201.28 363.41,200.37 364.63,199.63 C365.85,198.90 367.14,198.17 368.30,198.10 C369.46,198.02 370.50,198.35 371.60,199.20 C372.70,200.04 373.80,201.76 374.90,203.15 C376.00,204.55 377.10,206.20 378.20,207.55 C379.29,208.91 380.39,210.48 381.49,211.29 C382.59,212.10 383.69,212.76 384.79,212.39 C385.89,212.02 386.99,210.37 388.09,209.09 C389.19,207.81 390.29,206.05 391.39,204.69 C392.49,203.34 393.59,202.16 394.69,200.95 C395.79,199.74 397.07,198.28 397.99,197.44 C398.90,196.59 399.27,195.79 400.19,195.90 C401.10,196.01 402.39,197.18 403.49,198.10 C404.59,199.01 405.68,199.93 406.78,201.39 C407.88,202.86 408.98,205.24 410.08,206.89 C411.18,208.54 412.28,210.37 413.38,211.29 C414.48,212.21 415.58,212.57 416.68,212.39 C417.78,212.21 418.88,211.11 419.98,210.19 C421.08,209.27 422.18,207.81 423.28,206.89 C424.38,205.98 425.48,205.43 426.58,204.69 C427.68,203.96 428.78,203.12 429.88,202.49 C430.98,201.87 432.07,201.14 433.17,200.95 C434.27,200.77 435.37,200.95 436.47,201.39 C437.57,201.83 438.67,202.68 439.77,203.59 C440.87,204.51 441.97,205.61 443.07,206.89 C444.17,208.17 445.27,210.30 446.37,211.29 C447.47,212.28 448.57,213.01 449.67,212.83 C450.77,212.65 451.87,211.07 452.97,210.19 C454.07,209.31 455.35,208.21 456.27,207.55 C457.18,206.89 457.84,206.16 458.46,206.23 C459.09,206.31 459.45,208.61 460.00,207.99 C460.55,207.37 461.10,203.52 461.76,202.49 C462.42,201.47 463.23,201.83 463.96,201.83 C464.70,201.83 465.36,202.49 466.16,202.49 C466.97,202.49 468.36,201.94 468.80,201.83" fill="none" stroke="#1f77b4" stroke-width="1.7" stroke-linejoin="round" stroke-linecap="square" clip-path="url(#c3)"/><path d="M57.50,214.15 C57.80,213.49 58.27,211.40 59.30,210.19 C60.33,208.98 62.23,207.81 63.70,206.89 C65.16,205.98 66.63,205.24 68.10,204.69 C69.56,204.14 71.03,203.59 72.49,203.59 C73.96,203.59 75.61,204.03 76.89,204.69 C78.17,205.35 79.09,206.64 80.19,207.55 C81.29,208.47 82.39,209.38 83.49,210.19 C84.59,211.00 85.69,212.28 86.79,212.39 C87.89,212.50 88.99,211.77 90.09,210.85 C91.19,209.93 92.29,208.28 93.39,206.89 C94.49,205.50 95.59,203.70 96.68,202.49 C97.78,201.28 98.88,200.07 99.98,199.63 C101.08,199.20 102.18,199.56 103.28,199.85 C104.38,200.15 105.48,200.70 106.58,201.39 C107.68,202.09 108.85,203.23 109.88,204.03 C110.91,204.84 112.01,205.65 112.74,206.23 C113.47,206.82 113.65,207.55 114.28,207.55 C114.90,207.55 115.38,206.09 116.48,206.23 C117.58,206.38 119.59,208.50 120.88,208.43 C122.16,208.36 123.07,206.78 124.17,205.79 C125.27,204.80 126.37,203.30 127.47,202.49 C128.57,201.69 129.49,201.14 130.77,200.95 C132.05,200.77 133.70,201.14 135.17,201.39 C136.64,201.65 138.10,202.13 139.57,202.49 C141.03,202.86 142.87,203.23 143.97,203.59 C145.07,203.96 145.43,204.25 146.17,204.69 C146.90,205.13 147.45,205.68 148.37,206.23 C149.28,206.78 150.75,207.63 151.66,207.99 C152.58,208.36 152.95,208.72 153.86,208.43 C154.78,208.14 156.24,207.17 157.16,206.23 C158.08,205.30 158.54,204.07 159.40,202.82 C160.26,201.58 161.27,200.09 162.30,198.76 C163.33,197.42 164.50,195.75 165.60,194.80 C166.70,193.84 167.80,193.29 168.90,193.04 C170.00,192.78 171.10,192.67 172.20,193.26 C173.29,193.84 174.39,195.27 175.49,196.56 C176.59,197.84 177.69,199.71 178.79,200.95 C179.89,202.20 180.99,203.30 182.09,204.03 C183.19,204.77 184.29,205.50 185.39,205.35 C186.49,205.21 187.59,204.36 188.69,203.15 C189.79,201.94 190.89,199.67 191.99,198.10 C193.09,196.52 194.26,194.80 195.29,193.70 C196.31,192.60 197.23,191.86 198.15,191.50 C199.06,191.13 199.79,191.39 200.78,191.50 C201.77,191.61 203.17,191.97 204.08,192.16 C205.00,192.34 205.55,192.23 206.28,192.60 C207.02,192.96 207.75,193.70 208.48,194.36 C209.21,195.02 209.93,195.53 210.68,196.56 C211.43,197.58 211.86,198.93 213.00,200.50 C214.14,202.07 216.33,205.00 217.50,206.00 C218.67,207.00 218.92,207.25 220.00,206.50 C221.08,205.75 222.83,203.25 224.00,201.50 C225.17,199.75 226.00,197.58 227.00,196.00 C228.00,194.42 229.00,192.92 230.00,192.00 C231.00,191.08 232.00,190.80 233.00,190.50 C234.00,190.20 235.00,190.18 236.00,190.20 C237.00,190.22 237.93,190.30 239.00,190.60 C240.07,190.90 241.40,191.18 242.40,192.00 C243.40,192.82 244.18,194.22 245.00,195.50 C245.82,196.78 246.47,198.12 247.30,199.70 C248.13,201.28 249.05,203.62 250.00,205.00 C250.95,206.38 252.17,207.45 253.00,208.00 C253.83,208.55 254.00,209.13 255.00,208.30 C256.00,207.47 257.67,204.88 259.00,203.00 C260.33,201.12 261.83,198.50 263.00,197.00 C264.17,195.50 264.83,194.67 266.00,194.00 C267.17,193.33 268.83,193.00 270.00,193.00 C271.17,193.00 271.83,193.17 273.00,194.00 C274.17,194.83 275.67,196.50 277.00,198.00 C278.33,199.50 279.83,201.58 281.00,203.00 C282.17,204.42 283.00,205.78 284.00,206.50 C285.00,207.22 285.83,207.88 287.00,207.30 C288.17,206.72 289.67,204.55 291.00,203.00 C292.33,201.45 293.67,199.50 295.00,198.00 C296.33,196.50 297.67,194.83 299.00,194.00 C300.33,193.17 301.83,193.00 303.00,193.00 C304.17,193.00 304.83,193.00 306.00,194.00 C307.17,195.00 308.67,197.00 310.00,199.00 C311.33,201.00 312.84,203.79 314.00,206.00 C315.16,208.21 316.05,211.11 316.99,212.24 C317.93,213.38 318.70,213.54 319.62,212.83 C320.53,212.12 321.45,209.82 322.48,207.99 C323.50,206.16 324.68,203.48 325.78,201.83 C326.88,200.18 327.98,199.01 329.07,198.10 C330.17,197.18 331.27,196.70 332.37,196.34 C333.47,195.97 334.57,195.71 335.67,195.90 C336.77,196.08 337.87,196.52 338.97,197.44 C340.07,198.35 341.17,199.82 342.27,201.39 C343.37,202.97 344.47,205.24 345.57,206.89 C346.67,208.54 347.95,210.30 348.87,211.29 C349.78,212.28 350.15,212.72 351.07,212.83 C351.98,212.94 353.27,212.76 354.37,211.95 C355.46,211.14 356.56,209.38 357.66,207.99 C358.76,206.60 359.80,204.97 360.96,203.59 C362.12,202.22 363.41,200.77 364.63,199.74 C365.85,198.72 367.14,197.64 368.30,197.44 C369.46,197.23 370.50,197.69 371.60,198.54 C372.70,199.38 373.80,201.10 374.90,202.49 C376.00,203.89 377.10,205.54 378.20,206.89 C379.29,208.25 380.39,209.71 381.49,210.63 C382.59,211.55 383.69,212.54 384.79,212.39 C385.89,212.24 386.99,210.92 388.09,209.75 C389.19,208.58 390.29,206.75 391.39,205.35 C392.49,203.96 393.59,202.71 394.69,201.39 C395.79,200.07 397.07,198.46 397.99,197.44 C398.90,196.41 399.27,195.24 400.19,195.24 C401.10,195.24 402.39,196.48 403.49,197.44 C404.59,198.39 405.68,199.49 406.78,200.95 C407.88,202.42 408.98,204.51 410.08,206.23 C411.18,207.96 412.28,210.19 413.38,211.29 C414.48,212.39 415.58,213.01 416.68,212.83 C417.78,212.65 418.88,211.18 419.98,210.19 C421.08,209.20 422.18,207.88 423.28,206.89 C424.38,205.90 425.48,205.10 426.58,204.25 C427.68,203.41 428.78,202.49 429.88,201.83 C430.98,201.17 432.07,200.44 433.17,200.29 C434.27,200.15 435.37,200.48 436.47,200.95 C437.57,201.43 438.67,202.16 439.77,203.15 C440.87,204.14 441.97,205.54 443.07,206.89 C444.17,208.25 445.27,210.37 446.37,211.29 C447.47,212.21 448.57,212.65 449.67,212.39 C450.77,212.13 451.87,210.67 452.97,209.75 C454.07,208.83 455.35,207.63 456.27,206.89 C457.18,206.16 457.73,205.72 458.46,205.35 C459.20,204.99 459.93,205.06 460.66,204.69 C461.40,204.33 462.13,203.52 462.86,203.15 C463.60,202.79 464.07,202.71 465.06,202.49 C466.05,202.27 468.18,201.94 468.80,201.83" fill="none" stroke="#ff7f0e" stroke-width="1.7" stroke-linejoin="round" stroke-linecap="square" clip-path="url(#c3)"/><rect x="209.0" y="193.4" width="108.4" height="31.0" rx="1.9" fill="#fff" fill-opacity="0.84" stroke="#ccc" stroke-opacity="0.8" stroke-width="0.95"/><line x1="212.83" y1="200.88" x2="231.96" y2="200.88" stroke="#1f77b4" stroke-width="1.45"/><line x1="212.83" y1="214.66" x2="231.96" y2="214.66" stroke="#ff7f0e" stroke-width="1.45"/><text x="239.6" y="204.48" class="t">Original_client4</text><text x="239.6" y="218.26" class="t">Predict_client4</text><rect x="57.5" y="188.4" width="412.0" height="39.5" fill="none" stroke="#000" stroke-width="0.78"/><line x1="54.15" y1="191.8" x2="57.5" y2="191.8" stroke="#000" stroke-width="0.78"/><text x="50.8" y="195.3" class="t" text-anchor="end">5000</text><line x1="54.15" y1="212.8" x2="57.5" y2="212.8" stroke="#000" stroke-width="0.78"/><text x="50.8" y="216.3" class="t" text-anchor="end">2500</text><line x1="57.50" y1="227.9" x2="57.50" y2="231.25" stroke="#000" stroke-width="0.78"/><text x="57.50" y="241.8" class="t" text-anchor="middle">0</text><line x1="126.17" y1="227.9" x2="126.17" y2="231.25" stroke="#000" stroke-width="0.78"/><text x="126.17" y="241.8" class="t" text-anchor="middle">50</text><line x1="194.83" y1="227.9" x2="194.83" y2="231.25" stroke="#000" stroke-width="0.78"/><text x="194.83" y="241.8" class="t" text-anchor="middle">100</text><line x1="263.50" y1="227.9" x2="263.50" y2="231.25" stroke="#000" stroke-width="0.78"/><text x="263.50" y="241.8" class="t" text-anchor="middle">150</text><line x1="332.17" y1="227.9" x2="332.17" y2="231.25" stroke="#000" stroke-width="0.78"/><text x="332.17" y="241.8" class="t" text-anchor="middle">200</text><line x1="400.83" y1="227.9" x2="400.83" y2="231.25" stroke="#000" stroke-width="0.78"/><text x="400.83" y="241.8" class="t" text-anchor="middle">250</text><line x1="469.50" y1="227.9" x2="469.50" y2="231.25" stroke="#000" stroke-width="0.78"/><text x="469.50" y="241.8" class="t" text-anchor="middle">300</text></g>
<g><line x1="57.50" y1="249.4" x2="57.50" y2="288.9" class="gr"/><line x1="126.17" y1="249.4" x2="126.17" y2="288.9" class="gr"/><line x1="194.83" y1="249.4" x2="194.83" y2="288.9" class="gr"/><line x1="263.50" y1="249.4" x2="263.50" y2="288.9" class="gr"/><line x1="332.17" y1="249.4" x2="332.17" y2="288.9" class="gr"/><line x1="400.83" y1="249.4" x2="400.83" y2="288.9" class="gr"/><line x1="469.50" y1="249.4" x2="469.50" y2="288.9" class="gr"/><line x1="57.5" y1="254.7" x2="469.5" y2="254.7" class="gr"/><line x1="57.5" y1="279.6" x2="469.5" y2="279.6" class="gr"/><path d="M57.50,280.43 C57.80,279.99 58.45,279.03 59.30,277.79 C60.15,276.54 61.31,274.49 62.60,272.95 C63.88,271.41 65.53,269.58 67.00,268.55 C68.46,267.53 70.11,266.90 71.39,266.79 C72.68,266.68 73.59,266.98 74.69,267.89 C75.79,268.81 76.89,270.82 77.99,272.29 C79.09,273.76 80.19,275.48 81.29,276.69 C82.39,277.90 83.67,279.00 84.59,279.55 C85.51,280.10 85.87,280.28 86.79,279.99 C87.70,279.69 88.99,278.70 90.09,277.79 C91.19,276.87 92.10,275.52 93.39,274.49 C94.67,273.46 96.32,272.36 97.78,271.63 C99.25,270.90 100.72,270.35 102.18,270.09 C103.65,269.83 105.30,269.83 106.58,270.09 C107.86,270.35 108.78,270.90 109.88,271.63 C110.98,272.36 112.08,273.46 113.18,274.49 C114.28,275.52 115.38,276.87 116.48,277.79 C117.58,278.70 118.86,279.69 119.78,279.99 C120.69,280.28 121.06,280.28 121.98,279.55 C122.89,278.81 124.17,277.35 125.27,275.59 C126.37,273.83 127.47,270.75 128.57,268.99 C129.67,267.23 130.77,265.95 131.87,265.03 C132.97,264.12 134.07,263.64 135.17,263.49 C136.27,263.35 137.37,263.60 138.47,264.15 C139.57,264.70 140.67,265.62 141.77,266.79 C142.87,267.97 143.97,269.72 145.07,271.19 C146.17,272.66 147.27,274.31 148.37,275.59 C149.46,276.87 150.75,278.34 151.66,278.89 C152.58,279.44 152.95,279.44 153.86,278.89 C154.78,278.34 156.31,276.58 157.16,275.59 C158.02,274.60 158.45,273.61 159.00,272.95 C159.55,272.29 159.91,272.47 160.46,271.63 C161.01,270.79 161.44,269.07 162.30,267.89 C163.15,266.72 164.50,265.44 165.60,264.59 C166.70,263.75 167.80,262.91 168.90,262.83 C170.00,262.76 171.10,263.31 172.20,264.15 C173.29,265.00 174.39,266.43 175.49,267.89 C176.59,269.36 177.88,271.74 178.79,272.95 C179.71,274.16 180.26,274.78 180.99,275.15 C181.72,275.52 182.27,274.89 183.19,275.15 C184.11,275.41 185.39,276.80 186.49,276.69 C187.59,276.58 188.69,275.96 189.79,274.49 C190.89,273.02 191.99,270.09 193.09,267.89 C194.19,265.69 195.47,262.76 196.39,261.29 C197.30,259.83 197.67,259.28 198.59,259.10 C199.50,258.91 200.78,259.65 201.88,260.20 C202.98,260.74 204.08,261.29 205.18,262.39 C206.28,263.49 207.38,264.96 208.48,266.79 C209.58,268.63 210.68,271.37 211.78,273.39 C212.88,275.41 213.98,277.86 215.08,278.89 C216.18,279.91 217.28,279.73 218.38,279.55 C219.48,279.36 220.58,278.81 221.68,277.79 C222.78,276.76 223.88,275.15 224.98,273.39 C226.07,271.63 227.17,269.14 228.27,267.23 C229.37,265.33 230.47,263.20 231.57,261.95 C232.67,260.71 233.77,260.12 234.87,259.76 C235.97,259.39 237.07,259.39 238.17,259.76 C239.27,260.12 240.37,260.60 241.47,261.95 C242.57,263.31 243.85,265.80 244.77,267.89 C245.68,269.98 246.23,272.47 246.97,274.49 C247.70,276.51 248.25,278.78 249.17,279.99 C250.08,281.20 251.37,281.45 252.46,281.75 C253.56,282.04 254.66,282.41 255.76,281.75 C256.86,281.09 257.99,279.69 259.06,277.79 C260.13,275.88 261.14,272.44 262.18,270.31 C263.22,268.19 264.23,266.17 265.30,265.03 C266.37,263.90 267.50,263.57 268.60,263.49 C269.70,263.42 270.80,263.86 271.90,264.59 C273.00,265.33 274.10,266.24 275.20,267.89 C276.29,269.54 277.58,272.29 278.49,274.49 C279.41,276.69 279.78,279.62 280.69,281.09 C281.61,282.55 282.89,282.92 283.99,283.29 C285.09,283.65 286.19,283.65 287.29,283.29 C288.39,282.92 289.49,282.37 290.59,281.09 C291.69,279.80 292.79,277.24 293.89,275.59 C294.99,273.94 296.09,272.40 297.19,271.19 C298.29,269.98 299.39,268.99 300.49,268.33 C301.59,267.67 302.68,267.12 303.78,267.23 C304.88,267.34 305.98,267.97 307.08,268.99 C308.18,270.02 309.28,271.74 310.38,273.39 C311.48,275.04 312.58,277.42 313.68,278.89 C314.78,280.35 316.06,281.64 316.98,282.19 C317.90,282.74 318.26,282.74 319.18,282.19 C320.09,281.64 321.38,280.17 322.48,278.89 C323.58,277.61 324.68,275.77 325.78,274.49 C326.88,273.21 327.98,272.18 329.07,271.19 C330.17,270.20 331.27,269.10 332.37,268.55 C333.47,268.00 334.76,267.64 335.67,267.89 C336.59,268.15 336.96,268.99 337.87,270.09 C338.79,271.19 340.07,273.28 341.17,274.49 C342.27,275.70 343.37,276.51 344.47,277.35 C345.57,278.19 346.67,279.11 347.77,279.55 C348.87,279.99 349.97,280.28 351.07,279.99 C352.17,279.69 353.52,278.52 354.37,277.79 C355.21,277.06 355.35,276.05 356.12,275.59 C356.90,275.12 358.02,275.93 359.00,275.00 C359.98,274.07 361.00,271.33 362.00,270.00 C363.00,268.67 364.00,267.70 365.00,267.00 C366.00,266.30 367.00,265.88 368.00,265.80 C369.00,265.72 370.00,265.80 371.00,266.50 C372.00,267.20 372.83,268.25 374.00,270.00 C375.17,271.75 376.83,275.08 378.00,277.00 C379.17,278.92 380.00,280.57 381.00,281.50 C382.00,282.43 383.00,282.68 384.00,282.60 C385.00,282.52 385.83,282.10 387.00,281.00 C388.17,279.90 389.67,277.67 391.00,276.00 C392.33,274.33 393.67,272.33 395.00,271.00 C396.33,269.67 397.67,268.67 399.00,268.00 C400.33,267.33 401.83,266.67 403.00,267.00 C404.17,267.33 404.83,268.33 406.00,270.00 C407.17,271.67 408.83,275.00 410.00,277.00 C411.17,279.00 412.00,280.92 413.00,282.00 C414.00,283.08 415.00,283.50 416.00,283.50 C417.00,283.50 417.83,283.08 419.00,282.00 C420.17,280.92 421.50,278.83 423.00,277.00 C424.50,275.17 426.33,272.50 428.00,271.00 C429.67,269.50 431.50,268.17 433.00,268.00 C434.50,267.83 435.50,268.67 437.00,270.00 C438.50,271.33 440.33,274.50 442.00,276.00 C443.67,277.50 445.33,278.67 447.00,279.00 C448.67,279.33 450.50,278.42 452.00,278.00 C453.50,277.58 454.50,276.75 456.00,276.50 C457.50,276.25 459.50,276.37 461.00,276.50 C462.50,276.63 463.58,277.13 465.00,277.30 C466.42,277.47 468.75,277.47 469.50,277.50" fill="none" stroke="#1f77b4" stroke-width="1.7" stroke-linejoin="round" stroke-linecap="square" clip-path="url(#c4)"/><path d="M57.50,281.75 C57.80,281.16 58.45,279.62 59.30,278.23 C60.15,276.84 61.31,274.93 62.60,273.39 C63.88,271.85 65.53,270.02 67.00,268.99 C68.46,267.97 70.11,267.31 71.39,267.23 C72.68,267.16 73.59,267.60 74.69,268.55 C75.79,269.50 76.89,271.48 77.99,272.95 C79.09,274.42 80.19,276.18 81.29,277.35 C82.39,278.52 83.67,279.47 84.59,279.99 C85.51,280.50 85.87,280.72 86.79,280.43 C87.70,280.13 88.99,279.03 90.09,278.23 C91.19,277.42 92.10,276.58 93.39,275.59 C94.67,274.60 96.32,273.21 97.78,272.29 C99.25,271.37 100.72,270.53 102.18,270.09 C103.65,269.65 105.30,269.47 106.58,269.65 C107.86,269.83 108.78,270.38 109.88,271.19 C110.98,272.00 112.08,273.32 113.18,274.49 C114.28,275.66 115.38,277.24 116.48,278.23 C117.58,279.22 118.86,280.06 119.78,280.43 C120.69,280.79 121.06,281.05 121.98,280.43 C122.89,279.80 124.17,278.41 125.27,276.69 C126.37,274.97 127.47,271.92 128.57,270.09 C129.67,268.26 130.77,266.68 131.87,265.69 C132.97,264.70 134.07,264.34 135.17,264.15 C136.27,263.97 137.37,264.08 138.47,264.59 C139.57,265.11 140.67,266.06 141.77,267.23 C142.87,268.41 143.97,270.16 145.07,271.63 C146.17,273.10 147.27,274.82 148.37,276.03 C149.46,277.24 150.75,278.34 151.66,278.89 C152.58,279.44 152.95,279.69 153.86,279.33 C154.78,278.96 156.31,277.68 157.16,276.69 C158.02,275.70 158.45,274.12 159.00,273.39 C159.55,272.66 159.91,273.21 160.46,272.29 C161.01,271.37 161.44,269.25 162.30,267.89 C163.15,266.54 164.50,265.00 165.60,264.15 C166.70,263.31 167.80,262.83 168.90,262.83 C170.00,262.83 171.10,263.31 172.20,264.15 C173.29,265.00 174.39,266.54 175.49,267.89 C176.59,269.25 177.88,271.37 178.79,272.29 C179.71,273.21 180.26,272.91 180.99,273.39 C181.72,273.87 182.27,274.60 183.19,275.15 C184.11,275.70 185.39,276.80 186.49,276.69 C187.59,276.58 188.69,275.85 189.79,274.49 C190.89,273.13 191.99,270.49 193.09,268.55 C194.19,266.61 195.47,264.30 196.39,262.83 C197.30,261.37 197.67,260.27 198.59,259.76 C199.50,259.24 200.78,259.50 201.88,259.76 C202.98,260.01 204.08,260.30 205.18,261.29 C206.28,262.28 207.38,263.86 208.48,265.69 C209.58,267.53 210.68,270.27 211.78,272.29 C212.88,274.31 213.98,276.58 215.08,277.79 C216.18,279.00 217.28,279.55 218.38,279.55 C219.48,279.55 220.58,278.89 221.68,277.79 C222.78,276.69 223.88,274.78 224.98,272.95 C226.07,271.12 227.17,268.74 228.27,266.79 C229.37,264.85 230.47,262.58 231.57,261.29 C232.67,260.01 233.77,259.46 234.87,259.10 C235.97,258.73 237.07,258.84 238.17,259.10 C239.27,259.35 240.37,259.54 241.47,260.63 C242.57,261.73 243.85,263.93 244.77,265.69 C245.68,267.45 246.23,269.17 246.97,271.19 C247.70,273.21 248.25,276.14 249.17,277.79 C250.08,279.44 251.37,280.35 252.46,281.09 C253.56,281.82 254.66,282.37 255.76,282.19 C256.86,282.00 257.99,281.77 259.06,279.99 C260.13,278.21 261.14,274.09 262.18,271.52 C263.22,268.96 264.23,266.04 265.30,264.59 C266.37,263.15 267.50,263.02 268.60,262.83 C269.70,262.65 270.80,262.83 271.90,263.49 C273.00,264.15 274.10,265.14 275.20,266.79 C276.29,268.44 277.58,271.19 278.49,273.39 C279.41,275.59 279.78,278.34 280.69,279.99 C281.61,281.64 282.89,282.63 283.99,283.29 C285.09,283.95 286.19,284.20 287.29,283.95 C288.39,283.69 289.49,282.96 290.59,281.75 C291.69,280.54 292.79,278.37 293.89,276.69 C294.99,275.00 296.09,273.02 297.19,271.63 C298.29,270.24 299.39,269.07 300.49,268.33 C301.59,267.60 302.68,267.20 303.78,267.23 C304.88,267.27 305.98,267.60 307.08,268.55 C308.18,269.50 309.28,271.34 310.38,272.95 C311.48,274.56 312.58,276.76 313.68,278.23 C314.78,279.69 316.06,281.09 316.98,281.75 C317.90,282.41 318.26,282.55 319.18,282.19 C320.09,281.82 321.38,280.72 322.48,279.55 C323.58,278.37 324.68,276.54 325.78,275.15 C326.88,273.76 327.98,272.33 329.07,271.19 C330.17,270.05 331.27,268.99 332.37,268.33 C333.47,267.67 334.76,267.12 335.67,267.23 C336.59,267.34 336.96,268.04 337.87,268.99 C338.79,269.94 340.07,271.56 341.17,272.95 C342.27,274.34 343.37,276.25 344.47,277.35 C345.57,278.45 346.67,279.03 347.77,279.55 C348.87,280.06 349.97,280.54 351.07,280.43 C352.17,280.32 353.52,279.51 354.37,278.89 C355.21,278.26 355.35,277.17 356.12,276.69 C356.90,276.21 358.02,277.11 359.00,276.00 C359.98,274.89 361.00,271.58 362.00,270.00 C363.00,268.42 364.00,267.25 365.00,266.50 C366.00,265.75 367.00,265.50 368.00,265.50 C369.00,265.50 370.00,265.75 371.00,266.50 C372.00,267.25 372.83,268.17 374.00,270.00 C375.17,271.83 376.83,275.50 378.00,277.50 C379.17,279.50 380.00,281.08 381.00,282.00 C382.00,282.92 383.00,283.08 384.00,283.00 C385.00,282.92 385.83,282.67 387.00,281.50 C388.17,280.33 389.67,277.75 391.00,276.00 C392.33,274.25 393.67,272.33 395.00,271.00 C396.33,269.67 397.67,268.67 399.00,268.00 C400.33,267.33 401.83,266.67 403.00,267.00 C404.17,267.33 404.83,268.25 406.00,270.00 C407.17,271.75 408.83,275.42 410.00,277.50 C411.17,279.58 412.00,281.42 413.00,282.50 C414.00,283.58 415.00,284.00 416.00,284.00 C417.00,284.00 417.83,283.67 419.00,282.50 C420.17,281.33 421.50,278.92 423.00,277.00 C424.50,275.08 426.33,272.58 428.00,271.00 C429.67,269.42 431.50,267.75 433.00,267.50 C434.50,267.25 435.50,268.17 437.00,269.50 C438.50,270.83 440.33,274.00 442.00,275.50 C443.67,277.00 445.33,278.25 447.00,278.50 C448.67,278.75 450.50,277.50 452.00,277.00 C453.50,276.50 454.50,275.83 456.00,275.50 C457.50,275.17 459.50,274.98 461.00,275.00 C462.50,275.02 463.58,275.50 465.00,275.60 C466.42,275.70 468.75,275.60 469.50,275.60" fill="none" stroke="#ff7f0e" stroke-width="1.7" stroke-linejoin="round" stroke-linecap="square" clip-path="url(#c4)"/><rect x="356.32000000000005" y="252.6" width="108.4" height="31.0" rx="1.9" fill="#fff" fill-opacity="0.84" stroke="#ccc" stroke-opacity="0.8" stroke-width="0.95"/><line x1="360.15000000000003" y1="260.08" x2="379.28000000000003" y2="260.08" stroke="#1f77b4" stroke-width="1.45"/><line x1="360.15000000000003" y1="273.86" x2="379.28000000000003" y2="273.86" stroke="#ff7f0e" stroke-width="1.45"/><text x="386.9200000000001" y="263.68" class="t">Original_client5</text><text x="386.9200000000001" y="277.46000000000004" class="t">Predict_client5</text><rect x="57.5" y="249.4" width="412.0" height="39.5" fill="none" stroke="#000" stroke-width="0.78"/><line x1="54.15" y1="254.7" x2="57.5" y2="254.7" stroke="#000" stroke-width="0.78"/><text x="50.8" y="258.2" class="t" text-anchor="end">20000</text><line x1="54.15" y1="279.6" x2="57.5" y2="279.6" stroke="#000" stroke-width="0.78"/><text x="50.8" y="283.1" class="t" text-anchor="end">10000</text><line x1="57.50" y1="288.9" x2="57.50" y2="292.25" stroke="#000" stroke-width="0.78"/><text x="57.50" y="302.79999999999995" class="t" text-anchor="middle">0</text><line x1="126.17" y1="288.9" x2="126.17" y2="292.25" stroke="#000" stroke-width="0.78"/><text x="126.17" y="302.79999999999995" class="t" text-anchor="middle">50</text><line x1="194.83" y1="288.9" x2="194.83" y2="292.25" stroke="#000" stroke-width="0.78"/><text x="194.83" y="302.79999999999995" class="t" text-anchor="middle">100</text><line x1="263.50" y1="288.9" x2="263.50" y2="292.25" stroke="#000" stroke-width="0.78"/><text x="263.50" y="302.79999999999995" class="t" text-anchor="middle">150</text><line x1="332.17" y1="288.9" x2="332.17" y2="292.25" stroke="#000" stroke-width="0.78"/><text x="332.17" y="302.79999999999995" class="t" text-anchor="middle">200</text><line x1="400.83" y1="288.9" x2="400.83" y2="292.25" stroke="#000" stroke-width="0.78"/><text x="400.83" y="302.79999999999995" class="t" text-anchor="middle">250</text><line x1="469.50" y1="288.9" x2="469.50" y2="292.25" stroke="#000" stroke-width="0.78"/><text x="469.50" y="302.79999999999995" class="t" text-anchor="middle">300</text></g>
<g><line x1="57.50" y1="310.4" x2="57.50" y2="349.9" class="gr"/><line x1="126.17" y1="310.4" x2="126.17" y2="349.9" class="gr"/><line x1="194.83" y1="310.4" x2="194.83" y2="349.9" class="gr"/><line x1="263.50" y1="310.4" x2="263.50" y2="349.9" class="gr"/><line x1="332.17" y1="310.4" x2="332.17" y2="349.9" class="gr"/><line x1="400.83" y1="310.4" x2="400.83" y2="349.9" class="gr"/><line x1="469.50" y1="310.4" x2="469.50" y2="349.9" class="gr"/><line x1="57.5" y1="315.5" x2="469.5" y2="315.5" class="gr"/><line x1="57.5" y1="327.8" x2="469.5" y2="327.8" class="gr"/><line x1="57.5" y1="340.3" x2="469.5" y2="340.3" class="gr"/><path d="M57.50,344.95 C57.80,344.29 58.45,342.38 59.30,340.99 C60.15,339.59 61.31,337.87 62.60,336.59 C63.88,335.31 65.71,334.02 67.00,333.29 C68.28,332.56 69.20,332.19 70.29,332.19 C71.39,332.19 72.31,332.74 73.59,333.29 C74.88,333.84 76.71,334.57 77.99,335.49 C79.27,336.41 80.19,337.69 81.29,338.79 C82.39,339.89 83.67,341.35 84.59,342.09 C85.51,342.82 86.06,343.19 86.79,343.19 C87.52,343.19 88.07,342.82 88.99,342.09 C89.90,341.35 91.19,339.89 92.29,338.79 C93.39,337.69 94.30,336.66 95.59,335.49 C96.87,334.32 98.88,332.48 99.98,331.75 C101.08,331.02 101.27,331.02 102.18,331.09 C103.10,331.16 104.38,331.64 105.48,332.19 C106.58,332.74 107.68,333.66 108.78,334.39 C109.88,335.12 111.07,335.76 112.08,336.59 C113.09,337.41 113.91,338.53 114.83,339.34 C115.74,340.14 116.75,340.86 117.58,341.43 C118.40,342.00 119.04,342.82 119.78,342.75 C120.51,342.67 121.06,342.09 121.98,340.99 C122.89,339.89 124.17,337.62 125.27,336.15 C126.37,334.68 127.47,333.40 128.57,332.19 C129.67,330.98 130.77,329.81 131.87,328.89 C132.97,327.98 134.25,327.24 135.17,326.69 C136.09,326.14 136.64,325.41 137.37,325.59 C138.10,325.78 138.65,326.88 139.57,327.79 C140.48,328.71 141.77,329.99 142.87,331.09 C143.97,332.19 145.25,333.47 146.17,334.39 C147.08,335.31 147.63,335.86 148.37,336.59 C149.10,337.32 149.83,338.06 150.56,338.79 C151.30,339.52 152.03,340.69 152.76,340.99 C153.50,341.28 153.98,341.65 154.96,340.55 C155.94,339.45 157.41,336.70 158.63,334.39 C159.85,332.08 161.14,328.82 162.30,326.69 C163.46,324.57 164.50,322.37 165.60,321.63 C166.70,320.90 167.80,321.93 168.90,322.29 C170.00,322.66 171.10,322.99 172.20,323.83 C173.29,324.68 174.30,325.63 175.49,327.35 C176.68,329.08 178.33,334.01 179.34,334.17 C180.35,334.34 180.72,329.04 181.54,328.34 C182.37,327.65 183.47,329.06 184.29,329.99 C185.12,330.93 185.57,333.77 186.49,333.95 C187.41,334.13 188.69,332.48 189.79,331.09 C190.89,329.70 191.99,327.06 193.09,325.59 C194.19,324.13 195.29,323.39 196.39,322.29 C197.49,321.20 198.59,319.91 199.68,319.00 C200.78,318.08 201.88,316.87 202.98,316.80 C204.08,316.72 205.37,317.64 206.28,318.56 C207.20,319.47 207.75,321.12 208.48,322.29 C209.21,323.47 210.01,324.14 210.68,325.59 C211.35,327.04 211.61,329.85 212.50,331.00 C213.39,332.15 214.92,331.75 216.00,332.50 C217.08,333.25 218.17,334.92 219.00,335.50 C219.83,336.08 220.17,337.08 221.00,336.00 C221.83,334.92 223.07,331.33 224.00,329.00 C224.93,326.67 225.83,323.83 226.60,322.00 C227.37,320.17 227.87,319.67 228.60,318.00 C229.33,316.33 230.27,313.33 231.00,312.00 C231.73,310.67 232.17,310.50 233.00,310.00 C233.83,309.50 235.17,309.00 236.00,309.00 C236.83,309.00 237.33,309.57 238.00,310.00 C238.67,310.43 239.33,310.93 240.00,311.60 C240.67,312.27 241.33,312.93 242.00,314.00 C242.67,315.07 243.33,316.17 244.00,318.00 C244.67,319.83 245.33,322.83 246.00,325.00 C246.67,327.17 247.33,329.00 248.00,331.00 C248.67,333.00 249.33,335.33 250.00,337.00 C250.67,338.67 251.33,340.00 252.00,341.00 C252.67,342.00 253.33,342.67 254.00,343.00 C254.67,343.33 255.17,343.67 256.00,343.00 C256.83,342.33 258.00,340.67 259.00,339.00 C260.00,337.33 261.00,335.17 262.00,333.00 C263.00,330.83 264.00,328.17 265.00,326.00 C266.00,323.83 267.00,321.40 268.00,320.00 C269.00,318.60 270.00,317.77 271.00,317.60 C272.00,317.43 273.00,317.60 274.00,319.00 C275.00,320.40 276.00,323.33 277.00,326.00 C278.00,328.67 279.00,332.17 280.00,335.00 C281.00,337.83 282.00,340.92 283.00,343.00 C284.00,345.08 285.17,346.83 286.00,347.50 C286.83,348.17 287.17,347.75 288.00,347.00 C288.83,346.25 289.83,344.83 291.00,343.00 C292.17,341.17 293.67,338.00 295.00,336.00 C296.33,334.00 297.83,332.08 299.00,331.00 C300.17,329.92 301.00,329.58 302.00,329.50 C303.00,329.42 304.00,329.58 305.00,330.50 C306.00,331.42 307.00,333.25 308.00,335.00 C309.00,336.75 310.00,339.17 311.00,341.00 C312.00,342.83 313.00,344.95 314.00,346.00 C315.00,347.05 316.05,347.42 316.99,347.32 C317.93,347.22 318.70,346.44 319.62,345.39 C320.53,344.33 321.45,342.64 322.48,340.99 C323.50,339.34 324.68,337.32 325.78,335.49 C326.88,333.66 327.98,331.35 329.07,329.99 C330.17,328.64 331.46,328.09 332.37,327.35 C333.29,326.62 333.84,325.52 334.57,325.59 C335.31,325.67 335.86,326.69 336.77,327.79 C337.69,328.89 338.97,330.54 340.07,332.19 C341.17,333.84 342.27,336.04 343.37,337.69 C344.47,339.34 345.57,341.10 346.67,342.09 C347.77,343.08 348.87,343.81 349.97,343.63 C351.07,343.44 352.17,342.16 353.27,340.99 C354.37,339.81 355.46,338.06 356.56,336.59 C357.66,335.12 358.76,333.47 359.86,332.19 C360.96,330.91 362.31,329.44 363.16,328.89 C364.02,328.34 364.14,329.15 365.00,328.89 C365.86,328.64 367.20,327.35 368.30,327.35 C369.40,327.35 370.50,327.90 371.60,328.89 C372.70,329.88 373.80,331.64 374.90,333.29 C376.00,334.94 377.10,337.14 378.20,338.79 C379.29,340.44 380.58,342.27 381.49,343.19 C382.41,344.10 382.78,344.47 383.69,344.29 C384.61,344.10 385.89,343.55 386.99,342.09 C388.09,340.62 389.19,336.85 390.29,335.49 C391.39,334.13 392.49,334.43 393.59,333.95 C394.69,333.47 395.97,333.29 396.89,332.63 C397.80,331.97 398.35,330.98 399.09,329.99 C399.82,329.00 400.55,327.06 401.29,326.69 C402.02,326.33 402.57,327.24 403.49,327.79 C404.40,328.34 405.87,328.89 406.78,329.99 C407.70,331.09 408.25,332.19 408.98,334.39 C409.72,336.59 410.45,340.99 411.18,343.19 C411.92,345.39 412.58,346.67 413.38,347.59 C414.19,348.50 415.10,348.87 416.02,348.68 C416.94,348.50 417.85,347.77 418.88,346.49 C419.91,345.20 421.08,342.82 422.18,340.99 C423.28,339.15 424.38,337.03 425.48,335.49 C426.58,333.95 427.86,332.67 428.78,331.75 C429.69,330.83 430.06,330.10 430.98,329.99 C431.89,329.88 432.99,330.54 434.27,331.09 C435.56,331.64 437.39,332.74 438.67,333.29 C439.96,333.84 441.05,333.47 441.97,334.39 C442.89,335.31 443.44,337.14 444.17,338.79 C444.90,340.44 445.45,343.00 446.37,344.29 C447.29,345.57 448.57,346.23 449.67,346.49 C450.77,346.74 451.87,346.38 452.97,345.83 C454.07,345.28 455.17,344.18 456.27,343.19 C457.37,342.20 458.46,340.80 459.56,339.89 C460.66,338.97 461.76,338.24 462.86,337.69 C463.96,337.14 465.06,336.70 466.16,336.59 C467.26,336.48 468.91,336.96 469.46,337.03" fill="none" stroke="#1f77b4" stroke-width="1.7" stroke-linejoin="round" stroke-linecap="square" clip-path="url(#c5)"/><path d="M57.50,340.99 C57.80,340.25 58.45,338.06 59.30,336.59 C60.15,335.12 61.31,333.47 62.60,332.19 C63.88,330.91 65.71,329.70 67.00,328.89 C68.28,328.09 69.20,327.46 70.29,327.35 C71.39,327.24 72.31,327.61 73.59,328.23 C74.88,328.86 76.71,330.07 77.99,331.09 C79.27,332.12 80.19,333.18 81.29,334.39 C82.39,335.60 83.67,337.54 84.59,338.35 C85.51,339.15 86.06,339.15 86.79,339.23 C87.52,339.30 88.07,339.41 88.99,338.79 C89.90,338.17 91.19,336.59 92.29,335.49 C93.39,334.39 94.30,333.40 95.59,332.19 C96.87,330.98 98.88,329.04 99.98,328.23 C101.08,327.43 101.27,327.24 102.18,327.35 C103.10,327.46 104.38,328.27 105.48,328.89 C106.58,329.52 107.68,330.36 108.78,331.09 C109.88,331.82 111.16,332.56 112.08,333.29 C113.00,334.02 113.65,335.31 114.28,335.49 C114.90,335.67 115.27,334.13 115.82,334.39 C116.37,334.65 116.73,336.30 117.58,337.03 C118.42,337.76 119.96,338.93 120.88,338.79 C121.79,338.64 122.16,337.43 123.07,336.15 C123.99,334.87 125.27,332.41 126.37,331.09 C127.47,329.77 128.57,329.15 129.67,328.23 C130.77,327.32 131.87,326.40 132.97,325.59 C134.07,324.79 135.35,323.83 136.27,323.39 C137.19,322.95 137.74,322.66 138.47,322.95 C139.20,323.25 139.75,324.27 140.67,325.15 C141.58,326.03 142.87,327.13 143.97,328.23 C145.07,329.33 146.35,330.80 147.27,331.75 C148.18,332.70 148.73,333.22 149.46,333.95 C150.20,334.68 150.93,335.64 151.66,336.15 C152.40,336.66 153.13,337.14 153.86,337.03 C154.60,336.92 155.18,336.66 156.06,335.49 C156.95,334.32 158.14,332.01 159.18,329.99 C160.22,327.98 161.23,325.23 162.30,323.39 C163.37,321.56 164.50,319.73 165.60,319.00 C166.70,318.26 167.80,318.70 168.90,319.00 C170.00,319.29 171.10,319.95 172.20,320.76 C173.29,321.56 174.30,322.51 175.49,323.83 C176.68,325.15 178.43,328.45 179.34,328.67 C180.26,328.89 180.42,325.48 180.99,325.15 C181.56,324.82 182.02,325.89 182.75,326.69 C183.48,327.50 184.58,329.52 185.39,329.99 C186.20,330.47 186.67,330.10 187.59,329.55 C188.51,329.00 189.79,327.90 190.89,326.69 C191.99,325.48 193.09,323.58 194.19,322.29 C195.29,321.01 196.39,319.84 197.49,319.00 C198.59,318.15 199.87,317.79 200.78,317.24 C201.70,316.69 202.07,315.77 202.98,315.70 C203.90,315.62 205.37,316.06 206.28,316.80 C207.20,317.53 207.75,319.00 208.48,320.10 C209.21,321.20 210.01,321.91 210.68,323.39 C211.35,324.88 211.61,327.82 212.50,329.00 C213.39,330.18 214.92,329.83 216.00,330.50 C217.08,331.17 218.17,332.50 219.00,333.00 C219.83,333.50 220.17,334.50 221.00,333.50 C221.83,332.50 223.07,329.25 224.00,327.00 C224.93,324.75 225.83,321.83 226.60,320.00 C227.37,318.17 227.87,317.50 228.60,316.00 C229.33,314.50 230.27,312.17 231.00,311.00 C231.73,309.83 232.17,309.42 233.00,309.00 C233.83,308.58 235.17,308.50 236.00,308.50 C236.83,308.50 237.33,308.67 238.00,309.00 C238.67,309.33 239.33,310.00 240.00,310.50 C240.67,311.00 241.33,311.20 242.00,312.00 C242.67,312.80 243.33,313.80 244.00,315.30 C244.67,316.80 245.33,319.05 246.00,321.00 C246.67,322.95 247.33,325.00 248.00,327.00 C248.67,329.00 249.33,331.33 250.00,333.00 C250.67,334.67 251.33,336.00 252.00,337.00 C252.67,338.00 253.33,338.67 254.00,339.00 C254.67,339.33 255.17,339.67 256.00,339.00 C256.83,338.33 258.00,336.83 259.00,335.00 C260.00,333.17 261.00,330.33 262.00,328.00 C263.00,325.67 264.00,323.00 265.00,321.00 C266.00,319.00 267.00,317.17 268.00,316.00 C269.00,314.83 270.00,314.17 271.00,314.00 C272.00,313.83 273.00,313.83 274.00,315.00 C275.00,316.17 276.00,318.50 277.00,321.00 C278.00,323.50 279.00,327.17 280.00,330.00 C281.00,332.83 282.00,335.75 283.00,338.00 C284.00,340.25 285.17,342.50 286.00,343.50 C286.83,344.50 287.17,344.58 288.00,344.00 C288.83,343.42 289.83,341.67 291.00,340.00 C292.17,338.33 293.67,335.67 295.00,334.00 C296.33,332.33 297.83,330.92 299.00,330.00 C300.17,329.08 301.00,328.67 302.00,328.50 C303.00,328.33 304.00,328.42 305.00,329.00 C306.00,329.58 307.00,330.67 308.00,332.00 C309.00,333.33 310.00,335.50 311.00,337.00 C312.00,338.50 313.00,340.16 314.00,341.00 C315.00,341.84 316.05,341.86 316.99,342.04 C317.93,342.22 318.70,343.00 319.62,342.09 C320.53,341.18 321.45,338.42 322.48,336.59 C323.50,334.76 324.68,332.63 325.78,331.09 C326.88,329.55 327.98,328.27 329.07,327.35 C330.17,326.44 331.46,326.07 332.37,325.59 C333.29,325.12 333.84,324.49 334.57,324.49 C335.31,324.49 335.86,324.86 336.77,325.59 C337.69,326.33 338.97,327.50 340.07,328.89 C341.17,330.28 342.27,332.37 343.37,333.95 C344.47,335.53 345.57,337.18 346.67,338.35 C347.77,339.52 348.87,340.91 349.97,340.99 C351.07,341.06 352.17,340.07 353.27,338.79 C354.37,337.51 355.46,334.94 356.56,333.29 C357.66,331.64 358.76,329.99 359.86,328.89 C360.96,327.79 362.31,327.24 363.16,326.69 C364.02,326.14 364.14,325.96 365.00,325.59 C365.86,325.23 367.20,324.31 368.30,324.49 C369.40,324.68 370.50,325.59 371.60,326.69 C372.70,327.79 373.80,329.63 374.90,331.09 C376.00,332.56 377.10,334.13 378.20,335.49 C379.29,336.85 380.58,338.39 381.49,339.23 C382.41,340.07 382.78,340.69 383.69,340.55 C384.61,340.40 385.89,339.74 386.99,338.35 C388.09,336.96 389.19,333.66 390.29,332.19 C391.39,330.72 392.49,330.21 393.59,329.55 C394.69,328.89 395.97,328.71 396.89,328.23 C397.80,327.76 398.35,327.43 399.09,326.69 C399.82,325.96 400.55,324.38 401.29,323.83 C402.02,323.28 402.57,322.92 403.49,323.39 C404.40,323.87 405.87,325.23 406.78,326.69 C407.70,328.16 408.25,330.17 408.98,332.19 C409.72,334.21 410.45,337.14 411.18,338.79 C411.92,340.44 412.58,341.35 413.38,342.09 C414.19,342.82 415.10,343.30 416.02,343.19 C416.94,343.08 417.85,342.53 418.88,341.43 C419.91,340.33 421.08,338.20 422.18,336.59 C423.28,334.98 424.38,333.14 425.48,331.75 C426.58,330.36 427.86,329.08 428.78,328.23 C429.69,327.39 430.06,326.84 430.98,326.69 C431.89,326.55 432.99,327.10 434.27,327.35 C435.56,327.61 437.39,327.79 438.67,328.23 C439.96,328.67 441.05,328.97 441.97,329.99 C442.89,331.02 443.44,332.74 444.17,334.39 C444.90,336.04 445.45,338.61 446.37,339.89 C447.29,341.17 448.57,341.90 449.67,342.09 C450.77,342.27 451.87,341.90 452.97,340.99 C454.07,340.07 455.17,337.87 456.27,336.59 C457.37,335.31 458.46,334.21 459.56,333.29 C460.66,332.37 461.76,331.57 462.86,331.09 C463.96,330.61 465.06,330.43 466.16,330.43 C467.26,330.43 468.91,330.98 469.46,331.09" fill="none" stroke="#ff7f0e" stroke-width="1.7" stroke-linejoin="round" stroke-linecap="square" clip-path="url(#c5)"/><rect x="209.0" y="315.4" width="108.4" height="31.0" rx="1.9" fill="#fff" fill-opacity="0.84" stroke="#ccc" stroke-opacity="0.8" stroke-width="0.95"/><line x1="212.83" y1="322.88" x2="231.96" y2="322.88" stroke="#1f77b4" stroke-width="1.45"/><line x1="212.83" y1="336.65999999999997" x2="231.96" y2="336.65999999999997" stroke="#ff7f0e" stroke-width="1.45"/><text x="239.6" y="326.48" class="t">Original_client6</text><text x="239.6" y="340.26" class="t">Predict_client6</text><rect x="57.5" y="310.4" width="412.0" height="39.5" fill="none" stroke="#000" stroke-width="0.78"/><line x1="54.15" y1="315.5" x2="57.5" y2="315.5" stroke="#000" stroke-width="0.78"/><text x="50.8" y="319.0" class="t" text-anchor="end">2500</text><line x1="54.15" y1="327.8" x2="57.5" y2="327.8" stroke="#000" stroke-width="0.78"/><text x="50.8" y="331.3" class="t" text-anchor="end">2000</text><line x1="54.15" y1="340.3" x2="57.5" y2="340.3" stroke="#000" stroke-width="0.78"/><text x="50.8" y="343.8" class="t" text-anchor="end">1500</text><line x1="57.50" y1="349.9" x2="57.50" y2="353.25" stroke="#000" stroke-width="0.78"/><text x="57.50" y="363.79999999999995" class="t" text-anchor="middle">0</text><line x1="126.17" y1="349.9" x2="126.17" y2="353.25" stroke="#000" stroke-width="0.78"/><text x="126.17" y="363.79999999999995" class="t" text-anchor="middle">50</text><line x1="194.83" y1="349.9" x2="194.83" y2="353.25" stroke="#000" stroke-width="0.78"/><text x="194.83" y="363.79999999999995" class="t" text-anchor="middle">100</text><line x1="263.50" y1="349.9" x2="263.50" y2="353.25" stroke="#000" stroke-width="0.78"/><text x="263.50" y="363.79999999999995" class="t" text-anchor="middle">150</text><line x1="332.17" y1="349.9" x2="332.17" y2="353.25" stroke="#000" stroke-width="0.78"/><text x="332.17" y="363.79999999999995" class="t" text-anchor="middle">200</text><line x1="400.83" y1="349.9" x2="400.83" y2="353.25" stroke="#000" stroke-width="0.78"/><text x="400.83" y="363.79999999999995" class="t" text-anchor="middle">250</text><line x1="469.50" y1="349.9" x2="469.50" y2="353.25" stroke="#000" stroke-width="0.78"/><text x="469.50" y="363.79999999999995" class="t" text-anchor="middle">300</text></g>
<g><line x1="57.50" y1="371.4" x2="57.50" y2="410.9" class="gr"/><line x1="126.17" y1="371.4" x2="126.17" y2="410.9" class="gr"/><line x1="194.83" y1="371.4" x2="194.83" y2="410.9" class="gr"/><line x1="263.50" y1="371.4" x2="263.50" y2="410.9" class="gr"/><line x1="332.17" y1="371.4" x2="332.17" y2="410.9" class="gr"/><line x1="400.83" y1="371.4" x2="400.83" y2="410.9" class="gr"/><line x1="469.50" y1="371.4" x2="469.50" y2="410.9" class="gr"/><line x1="57.5" y1="384.8" x2="469.5" y2="384.8" class="gr"/><line x1="57.5" y1="410.5" x2="469.5" y2="410.5" class="gr"/><path d="M57.50,409.02 C57.80,408.22 58.45,405.91 59.30,404.19 C60.15,402.46 61.50,400.34 62.60,398.69 C63.70,397.04 64.80,395.57 65.90,394.29 C67.00,393.01 68.10,391.72 69.20,390.99 C70.29,390.26 71.39,389.89 72.49,389.89 C73.59,389.89 74.69,390.08 75.79,390.99 C76.89,391.91 77.99,393.74 79.09,395.39 C80.19,397.04 81.29,399.24 82.39,400.89 C83.49,402.54 84.77,404.37 85.69,405.29 C86.61,406.20 86.97,406.57 87.89,406.39 C88.80,406.20 90.09,405.29 91.19,404.19 C92.29,403.09 93.39,401.44 94.49,399.79 C95.59,398.14 96.68,395.76 97.78,394.29 C98.88,392.82 100.17,391.36 101.08,390.99 C102.00,390.63 102.37,391.72 103.28,392.09 C104.20,392.46 105.48,392.64 106.58,393.19 C107.68,393.74 108.78,394.47 109.88,395.39 C110.98,396.31 112.26,397.59 113.18,398.69 C114.09,399.79 114.64,401.14 115.38,401.99 C116.11,402.83 116.66,403.56 117.58,403.75 C118.49,403.93 119.78,403.75 120.88,403.09 C121.98,402.43 123.07,400.89 124.17,399.79 C125.27,398.69 126.37,397.41 127.47,396.49 C128.57,395.57 129.49,395.02 130.77,394.29 C132.05,393.56 133.89,392.82 135.17,392.09 C136.45,391.36 137.55,390.37 138.47,389.89 C139.39,389.42 139.93,389.05 140.67,389.23 C141.40,389.42 142.13,390.33 142.87,390.99 C143.60,391.65 144.33,392.09 145.07,393.19 C145.80,394.29 146.53,396.12 147.27,397.59 C148.00,399.06 148.73,400.89 149.46,401.99 C150.20,403.09 150.93,403.89 151.66,404.19 C152.40,404.48 152.95,404.48 153.86,403.75 C154.78,403.01 156.31,400.81 157.16,399.79 C158.02,398.76 158.45,398.51 159.00,397.59 C159.55,396.67 159.91,395.39 160.46,394.29 C161.01,393.19 161.44,392.57 162.30,390.99 C163.15,389.42 164.50,386.30 165.60,384.83 C166.70,383.37 167.80,382.71 168.90,382.20 C170.00,381.68 171.10,381.39 172.20,381.76 C173.29,382.12 174.39,383.04 175.49,384.39 C176.59,385.75 177.69,387.88 178.79,389.89 C179.89,391.91 180.99,394.66 182.09,396.49 C183.19,398.32 184.29,399.90 185.39,400.89 C186.49,401.88 187.77,402.43 188.69,402.43 C189.61,402.43 190.15,402.06 190.89,400.89 C191.62,399.72 192.35,397.41 193.09,395.39 C193.82,393.37 194.55,390.99 195.29,388.79 C196.02,386.59 196.57,383.84 197.49,382.20 C198.40,380.55 199.68,379.63 200.78,378.90 C201.88,378.16 203.17,378.05 204.08,377.80 C205.00,377.54 205.55,377.06 206.28,377.36 C207.02,377.65 207.72,378.09 208.48,379.56 C209.24,381.02 209.97,383.47 210.84,386.15 C211.71,388.82 212.84,393.12 213.70,395.60 C214.56,398.08 215.20,399.77 216.00,401.00 C216.80,402.23 217.75,402.67 218.50,403.00 C219.25,403.33 219.75,404.00 220.50,403.00 C221.25,402.00 222.25,398.83 223.00,397.00 C223.75,395.17 224.17,394.00 225.00,392.00 C225.83,390.00 227.17,386.88 228.00,385.00 C228.83,383.12 229.33,382.03 230.00,380.70 C230.67,379.37 231.33,377.90 232.00,377.00 C232.67,376.10 233.17,375.55 234.00,375.30 C234.83,375.05 236.00,375.05 237.00,375.50 C238.00,375.95 239.08,376.92 240.00,378.00 C240.92,379.08 241.70,380.72 242.50,382.00 C243.30,383.28 244.05,384.03 244.80,385.70 C245.55,387.37 246.17,389.52 247.00,392.00 C247.83,394.48 248.97,398.27 249.80,400.60 C250.63,402.93 251.30,404.68 252.00,406.00 C252.70,407.32 253.33,408.05 254.00,408.50 C254.67,408.95 255.17,409.28 256.00,408.70 C256.83,408.12 258.00,406.95 259.00,405.00 C260.00,403.05 261.00,399.83 262.00,397.00 C263.00,394.17 264.00,390.67 265.00,388.00 C266.00,385.33 267.00,382.75 268.00,381.00 C269.00,379.25 270.00,377.83 271.00,377.50 C272.00,377.17 273.00,377.42 274.00,379.00 C275.00,380.58 276.00,384.00 277.00,387.00 C278.00,390.00 279.00,394.00 280.00,397.00 C281.00,400.00 282.08,403.00 283.00,405.00 C283.92,407.00 284.67,408.42 285.50,409.00 C286.33,409.58 287.08,409.50 288.00,408.50 C288.92,407.50 289.83,405.25 291.00,403.00 C292.17,400.75 293.67,397.50 295.00,395.00 C296.33,392.50 297.83,389.75 299.00,388.00 C300.17,386.25 301.00,385.00 302.00,384.50 C303.00,384.00 304.00,384.08 305.00,385.00 C306.00,385.92 307.00,387.83 308.00,390.00 C309.00,392.17 310.00,395.50 311.00,398.00 C312.00,400.50 313.00,403.28 314.00,405.00 C315.00,406.72 315.94,407.80 316.99,408.32 C318.04,408.85 319.18,409.02 320.28,408.15 C321.38,407.27 322.48,405.21 323.58,403.09 C324.68,400.96 325.78,397.77 326.88,395.39 C327.98,393.01 329.07,390.55 330.17,388.79 C331.27,387.03 332.45,385.75 333.47,384.83 C334.50,383.92 335.42,383.18 336.33,383.29 C337.25,383.40 337.98,384.21 338.97,385.49 C339.96,386.78 341.17,388.79 342.27,390.99 C343.37,393.19 344.47,396.49 345.57,398.69 C346.67,400.89 347.95,402.90 348.87,404.19 C349.78,405.47 350.15,406.39 351.07,406.39 C351.98,406.39 353.27,405.47 354.37,404.19 C355.46,402.90 356.56,400.52 357.66,398.69 C358.76,396.86 359.80,395.02 360.96,393.19 C362.12,391.36 363.59,389.23 364.63,387.69 C365.67,386.15 366.40,384.69 367.20,383.95 C367.99,383.22 368.48,383.04 369.40,383.29 C370.31,383.55 371.60,384.03 372.70,385.49 C373.80,386.96 374.90,389.71 376.00,392.09 C377.10,394.47 378.20,397.41 379.29,399.79 C380.39,402.17 381.68,405.10 382.59,406.39 C383.51,407.67 383.88,407.67 384.79,407.49 C385.71,407.30 386.99,406.57 388.09,405.29 C389.19,404.00 390.29,401.80 391.39,399.79 C392.49,397.77 393.59,395.21 394.69,393.19 C395.79,391.17 396.89,389.16 397.99,387.69 C399.09,386.23 400.37,384.94 401.29,384.39 C402.20,383.84 402.75,383.95 403.49,384.39 C404.22,384.83 404.77,385.57 405.68,387.03 C406.60,388.50 407.88,390.70 408.98,393.19 C410.08,395.68 411.18,399.72 412.28,401.99 C413.38,404.26 414.66,405.91 415.58,406.83 C416.50,407.74 416.86,407.85 417.78,407.49 C418.70,407.12 419.98,405.91 421.08,404.63 C422.18,403.34 423.28,401.51 424.38,399.79 C425.48,398.07 426.58,395.94 427.68,394.29 C428.78,392.64 429.88,390.99 430.98,389.89 C432.07,388.79 433.36,387.95 434.27,387.69 C435.19,387.44 435.56,387.62 436.47,388.35 C437.39,389.09 438.67,390.37 439.77,392.09 C440.87,393.81 441.97,396.49 443.07,398.69 C444.17,400.89 445.27,403.56 446.37,405.29 C447.47,407.01 448.75,408.40 449.67,409.02 C450.58,409.65 450.95,409.65 451.87,409.02 C452.78,408.40 454.07,407.01 455.17,405.29 C456.27,403.56 457.37,400.70 458.46,398.69 C459.56,396.67 460.66,394.55 461.76,393.19 C462.86,391.83 463.89,391.10 465.06,390.55 C466.24,390.00 468.18,390.00 468.80,389.89" fill="none" stroke="#1f77b4" stroke-width="1.7" stroke-linejoin="round" stroke-linecap="square" clip-path="url(#c6)"/><path d="M57.50,401.99 C57.80,401.33 58.45,399.57 59.30,398.03 C60.15,396.49 61.50,394.36 62.60,392.75 C63.70,391.14 64.80,389.56 65.90,388.35 C67.00,387.14 68.10,386.23 69.20,385.49 C70.29,384.76 71.39,384.06 72.49,383.95 C73.59,383.84 74.69,384.03 75.79,384.83 C76.89,385.64 77.99,387.22 79.09,388.79 C80.19,390.37 81.29,392.64 82.39,394.29 C83.49,395.94 84.77,397.77 85.69,398.69 C86.61,399.61 86.97,399.79 87.89,399.79 C88.80,399.79 90.09,399.61 91.19,398.69 C92.29,397.77 93.39,395.94 94.49,394.29 C95.59,392.64 96.68,390.26 97.78,388.79 C98.88,387.33 100.17,386.04 101.08,385.49 C102.00,384.94 102.37,385.31 103.28,385.49 C104.20,385.68 105.48,386.04 106.58,386.59 C107.68,387.14 108.78,387.88 109.88,388.79 C110.98,389.71 112.26,390.99 113.18,392.09 C114.09,393.19 114.64,394.47 115.38,395.39 C116.11,396.31 116.66,397.30 117.58,397.59 C118.49,397.88 119.78,397.88 120.88,397.15 C121.98,396.42 123.07,394.29 124.17,393.19 C125.27,392.09 126.37,391.28 127.47,390.55 C128.57,389.82 129.49,389.38 130.77,388.79 C132.05,388.21 133.89,387.58 135.17,387.03 C136.45,386.48 137.55,385.93 138.47,385.49 C139.39,385.05 139.93,384.39 140.67,384.39 C141.40,384.39 142.13,384.83 142.87,385.49 C143.60,386.15 144.33,387.44 145.07,388.35 C145.80,389.27 146.53,389.89 147.27,390.99 C148.00,392.09 148.73,393.85 149.46,394.95 C150.20,396.05 150.93,397.15 151.66,397.59 C152.40,398.03 152.95,398.14 153.86,397.59 C154.78,397.04 156.31,395.39 157.16,394.29 C158.02,393.19 158.45,391.72 159.00,390.99 C159.55,390.26 159.91,390.81 160.46,389.89 C161.01,388.98 161.44,387.14 162.30,385.49 C163.15,383.84 164.50,381.21 165.60,380.00 C166.70,378.79 167.80,378.53 168.90,378.24 C170.00,377.94 171.10,377.76 172.20,378.24 C173.29,378.71 174.39,379.78 175.49,381.10 C176.59,382.41 177.69,384.50 178.79,386.15 C179.89,387.80 180.99,389.75 182.09,390.99 C183.19,392.24 184.29,392.97 185.39,393.63 C186.49,394.29 187.77,394.95 188.69,394.95 C189.61,394.95 190.15,394.47 190.89,393.63 C191.62,392.79 192.35,391.50 193.09,389.89 C193.82,388.28 194.55,385.90 195.29,383.95 C196.02,382.01 196.57,379.70 197.49,378.24 C198.40,376.77 199.68,375.89 200.78,375.16 C201.88,374.42 203.17,374.06 204.08,373.84 C205.00,373.62 205.55,373.54 206.28,373.84 C207.02,374.13 207.72,374.58 208.48,375.60 C209.24,376.62 209.97,378.21 210.84,379.95 C211.71,381.68 212.84,384.16 213.70,386.00 C214.56,387.84 215.20,389.67 216.00,391.00 C216.80,392.33 217.75,393.50 218.50,394.00 C219.25,394.50 219.75,394.83 220.50,394.00 C221.25,393.17 222.25,390.67 223.00,389.00 C223.75,387.33 224.17,385.83 225.00,384.00 C225.83,382.17 227.17,379.50 228.00,378.00 C228.83,376.50 229.33,375.83 230.00,375.00 C230.67,374.17 231.33,373.50 232.00,373.00 C232.67,372.50 233.17,372.27 234.00,372.00 C234.83,371.73 236.00,371.40 237.00,371.40 C238.00,371.40 239.08,371.57 240.00,372.00 C240.92,372.43 241.70,373.17 242.50,374.00 C243.30,374.83 244.05,375.67 244.80,377.00 C245.55,378.33 246.17,379.83 247.00,382.00 C247.83,384.17 248.97,387.50 249.80,390.00 C250.63,392.50 251.30,395.25 252.00,397.00 C252.70,398.75 253.33,399.83 254.00,400.50 C254.67,401.17 255.17,401.58 256.00,401.00 C256.83,400.42 258.00,399.00 259.00,397.00 C260.00,395.00 261.00,391.67 262.00,389.00 C263.00,386.33 264.00,383.33 265.00,381.00 C266.00,378.67 267.08,376.42 268.00,375.00 C268.92,373.58 269.50,372.75 270.50,372.50 C271.50,372.25 272.92,372.25 274.00,373.50 C275.08,374.75 276.00,377.58 277.00,380.00 C278.00,382.42 279.00,385.67 280.00,388.00 C281.00,390.33 282.08,392.50 283.00,394.00 C283.92,395.50 284.67,396.67 285.50,397.00 C286.33,397.33 287.08,397.00 288.00,396.00 C288.92,395.00 289.83,392.83 291.00,391.00 C292.17,389.17 293.67,387.00 295.00,385.00 C296.33,383.00 297.83,380.50 299.00,379.00 C300.17,377.50 301.00,376.50 302.00,376.00 C303.00,375.50 304.00,375.33 305.00,376.00 C306.00,376.67 307.00,378.00 308.00,380.00 C309.00,382.00 310.00,385.50 311.00,388.00 C312.00,390.50 313.00,392.98 314.00,395.00 C315.00,397.02 315.94,399.24 316.99,400.11 C318.04,400.99 319.18,401.02 320.28,400.23 C321.38,399.44 322.48,397.37 323.58,395.39 C324.68,393.41 325.78,390.48 326.88,388.35 C327.98,386.23 329.07,384.03 330.17,382.63 C331.27,381.24 332.45,380.62 333.47,380.00 C334.50,379.37 335.42,378.90 336.33,378.90 C337.25,378.90 337.98,378.90 338.97,380.00 C339.96,381.10 341.17,383.29 342.27,385.49 C343.37,387.69 344.47,391.10 345.57,393.19 C346.67,395.28 347.95,396.93 348.87,398.03 C349.78,399.13 350.15,399.86 351.07,399.79 C351.98,399.72 353.27,398.87 354.37,397.59 C355.46,396.31 356.56,393.85 357.66,392.09 C358.76,390.33 359.80,388.63 360.96,387.03 C362.12,385.44 363.59,383.77 364.63,382.52 C365.67,381.28 366.40,380.27 367.20,379.56 C367.99,378.84 368.48,378.09 369.40,378.24 C370.31,378.38 371.60,379.04 372.70,380.44 C373.80,381.83 374.90,384.47 376.00,386.59 C377.10,388.72 378.20,391.28 379.29,393.19 C380.39,395.10 381.68,397.00 382.59,398.03 C383.51,399.06 383.88,399.50 384.79,399.35 C385.71,399.20 386.99,398.36 388.09,397.15 C389.19,395.94 390.29,394.03 391.39,392.09 C392.49,390.15 393.59,387.33 394.69,385.49 C395.79,383.66 396.89,382.20 397.99,381.10 C399.09,380.00 400.37,379.26 401.29,378.90 C402.20,378.53 402.75,378.53 403.49,378.90 C404.22,379.26 404.77,379.74 405.68,381.10 C406.60,382.45 407.88,384.83 408.98,387.03 C410.08,389.23 411.18,392.35 412.28,394.29 C413.38,396.23 414.66,397.85 415.58,398.69 C416.50,399.53 416.86,399.53 417.78,399.35 C418.70,399.17 419.98,398.62 421.08,397.59 C422.18,396.56 423.28,394.84 424.38,393.19 C425.48,391.54 426.58,389.23 427.68,387.69 C428.78,386.15 429.88,384.94 430.98,383.95 C432.07,382.96 433.36,382.05 434.27,381.76 C435.19,381.46 435.56,381.46 436.47,382.20 C437.39,382.93 438.67,384.32 439.77,386.15 C440.87,387.99 441.97,390.99 443.07,393.19 C444.17,395.39 445.27,397.88 446.37,399.35 C447.47,400.81 448.75,401.62 449.67,401.99 C450.58,402.35 450.95,402.28 451.87,401.55 C452.78,400.81 454.07,399.17 455.17,397.59 C456.27,396.01 457.37,393.74 458.46,392.09 C459.56,390.44 460.66,388.90 461.76,387.69 C462.86,386.48 463.89,385.38 465.06,384.83 C466.24,384.28 468.18,384.47 468.80,384.39" fill="none" stroke="#ff7f0e" stroke-width="1.7" stroke-linejoin="round" stroke-linecap="square" clip-path="url(#c6)"/><rect x="209.0" y="376.4" width="108.4" height="31.0" rx="1.9" fill="#fff" fill-opacity="0.84" stroke="#ccc" stroke-opacity="0.8" stroke-width="0.95"/><line x1="212.83" y1="383.88" x2="231.96" y2="383.88" stroke="#1f77b4" stroke-width="1.45"/><line x1="212.83" y1="397.65999999999997" x2="231.96" y2="397.65999999999997" stroke="#ff7f0e" stroke-width="1.45"/><text x="239.6" y="387.48" class="t">Original_client7</text><text x="239.6" y="401.26" class="t">Predict_client7</text><rect x="57.5" y="371.4" width="412.0" height="39.5" fill="none" stroke="#000" stroke-width="0.78"/><line x1="54.15" y1="384.8" x2="57.5" y2="384.8" stroke="#000" stroke-width="0.78"/><text x="50.8" y="388.3" class="t" text-anchor="end">2000</text><line x1="54.15" y1="410.5" x2="57.5" y2="410.5" stroke="#000" stroke-width="0.78"/><text x="50.8" y="414.0" class="t" text-anchor="end">1000</text><line x1="57.50" y1="410.9" x2="57.50" y2="414.25" stroke="#000" stroke-width="0.78"/><text x="57.50" y="424.79999999999995" class="t" text-anchor="middle">0</text><line x1="126.17" y1="410.9" x2="126.17" y2="414.25" stroke="#000" stroke-width="0.78"/><text x="126.17" y="424.79999999999995" class="t" text-anchor="middle">50</text><line x1="194.83" y1="410.9" x2="194.83" y2="414.25" stroke="#000" stroke-width="0.78"/><text x="194.83" y="424.79999999999995" class="t" text-anchor="middle">100</text><line x1="263.50" y1="410.9" x2="263.50" y2="414.25" stroke="#000" stroke-width="0.78"/><text x="263.50" y="424.79999999999995" class="t" text-anchor="middle">150</text><line x1="332.17" y1="410.9" x2="332.17" y2="414.25" stroke="#000" stroke-width="0.78"/><text x="332.17" y="424.79999999999995" class="t" text-anchor="middle">200</text><line x1="400.83" y1="410.9" x2="400.83" y2="414.25" stroke="#000" stroke-width="0.78"/><text x="400.83" y="424.79999999999995" class="t" text-anchor="middle">250</text><line x1="469.50" y1="410.9" x2="469.50" y2="414.25" stroke="#000" stroke-width="0.78"/><text x="469.50" y="424.79999999999995" class="t" text-anchor="middle">300</text></g>
<g><line x1="57.50" y1="432.4" x2="57.50" y2="471.9" class="gr"/><line x1="126.17" y1="432.4" x2="126.17" y2="471.9" class="gr"/><line x1="194.83" y1="432.4" x2="194.83" y2="471.9" class="gr"/><line x1="263.50" y1="432.4" x2="263.50" y2="471.9" class="gr"/><line x1="332.17" y1="432.4" x2="332.17" y2="471.9" class="gr"/><line x1="400.83" y1="432.4" x2="400.83" y2="471.9" class="gr"/><line x1="469.50" y1="432.4" x2="469.50" y2="471.9" class="gr"/><line x1="57.5" y1="446.8" x2="469.5" y2="446.8" class="gr"/><line x1="57.5" y1="470.6" x2="469.5" y2="470.6" class="gr"/><path d="M57.50,464.75 C57.80,464.09 58.45,462.00 59.30,460.79 C60.15,459.58 61.31,458.41 62.60,457.49 C63.88,456.57 65.53,455.84 67.00,455.29 C68.46,454.74 70.11,454.26 71.39,454.19 C72.68,454.12 73.59,454.30 74.69,454.85 C75.79,455.40 76.89,456.50 77.99,457.49 C79.09,458.48 80.19,459.80 81.29,460.79 C82.39,461.78 83.67,462.88 84.59,463.43 C85.51,463.98 85.87,464.34 86.79,464.09 C87.70,463.83 88.99,462.99 90.09,461.89 C91.19,460.79 92.29,458.70 93.39,457.49 C94.49,456.28 95.59,455.36 96.68,454.63 C97.78,453.90 98.88,453.42 99.98,453.09 C101.08,452.76 102.00,452.54 103.28,452.65 C104.57,452.76 106.40,453.13 107.68,453.75 C108.96,454.37 109.88,455.40 110.98,456.39 C112.08,457.38 113.18,458.59 114.28,459.69 C115.38,460.79 116.66,462.18 117.58,462.99 C118.49,463.79 119.04,464.34 119.78,464.53 C120.51,464.71 121.06,464.89 121.98,464.09 C122.89,463.28 124.17,461.52 125.27,459.69 C126.37,457.86 127.47,454.67 128.57,453.09 C129.67,451.52 130.77,450.97 131.87,450.23 C132.97,449.50 134.25,448.99 135.17,448.69 C136.09,448.40 136.45,448.22 137.37,448.47 C138.29,448.73 139.57,449.46 140.67,450.23 C141.77,451.00 143.05,452.25 143.97,453.09 C144.88,453.93 145.25,454.19 146.17,455.29 C147.08,456.39 148.55,458.48 149.46,459.69 C150.38,460.90 150.93,461.92 151.66,462.55 C152.40,463.17 152.95,463.72 153.86,463.43 C154.78,463.13 156.31,462.03 157.16,460.79 C158.02,459.54 158.45,456.87 159.00,455.95 C159.55,455.03 159.91,455.84 160.46,455.29 C161.01,454.74 161.44,453.38 162.30,452.65 C163.15,451.92 164.50,451.30 165.60,450.89 C166.70,450.49 167.80,450.23 168.90,450.23 C170.00,450.23 171.10,450.60 172.20,450.89 C173.29,451.19 174.30,451.02 175.49,451.99 C176.68,452.96 178.33,456.43 179.34,456.72 C180.35,457.01 180.72,453.51 181.54,453.75 C182.37,453.99 183.47,457.71 184.29,458.15 C185.12,458.59 185.57,457.12 186.49,456.39 C187.41,455.66 188.69,454.67 189.79,453.75 C190.89,452.83 191.99,451.74 193.09,450.89 C194.19,450.05 195.29,449.32 196.39,448.69 C197.49,448.07 198.59,447.70 199.68,447.15 C200.78,446.60 201.88,445.32 202.98,445.39 C204.08,445.47 205.18,446.86 206.28,447.59 C207.38,448.33 208.79,449.22 209.58,449.79 C210.37,450.36 210.31,450.17 211.00,451.00 C211.69,451.83 212.87,453.97 213.70,454.80 C214.53,455.63 215.17,455.97 216.00,456.00 C216.83,456.03 217.87,455.83 218.70,455.00 C219.53,454.17 220.17,452.38 221.00,451.00 C221.83,449.62 222.95,448.20 223.70,446.70 C224.45,445.20 224.88,443.45 225.50,442.00 C226.12,440.55 226.82,439.17 227.40,438.00 C227.98,436.83 228.40,435.70 229.00,435.00 C229.60,434.30 230.17,434.03 231.00,433.80 C231.83,433.57 233.00,433.57 234.00,433.60 C235.00,433.63 236.00,433.68 237.00,434.00 C238.00,434.32 238.90,434.63 240.00,435.50 C241.10,436.37 242.68,437.45 243.60,439.20 C244.52,440.95 244.88,443.70 245.50,446.00 C246.12,448.30 246.58,450.50 247.30,453.00 C248.02,455.50 249.02,459.17 249.80,461.00 C250.58,462.83 251.22,463.42 252.00,464.00 C252.78,464.58 253.67,465.00 254.50,464.50 C255.33,464.00 255.92,462.92 257.00,461.00 C258.08,459.08 259.67,455.50 261.00,453.00 C262.33,450.50 263.83,447.92 265.00,446.00 C266.17,444.08 267.00,442.50 268.00,441.50 C269.00,440.50 270.00,440.00 271.00,440.00 C272.00,440.00 273.00,440.33 274.00,441.50 C275.00,442.67 276.00,444.92 277.00,447.00 C278.00,449.08 279.00,451.83 280.00,454.00 C281.00,456.17 282.00,458.58 283.00,460.00 C284.00,461.42 285.00,462.33 286.00,462.50 C287.00,462.67 287.83,462.25 289.00,461.00 C290.17,459.75 291.67,456.83 293.00,455.00 C294.33,453.17 295.67,451.25 297.00,450.00 C298.33,448.75 299.83,448.00 301.00,447.50 C302.17,447.00 303.00,446.75 304.00,447.00 C305.00,447.25 305.83,447.67 307.00,449.00 C308.17,450.33 309.67,452.83 311.00,455.00 C312.33,457.17 313.92,460.35 315.00,462.00 C316.08,463.65 316.72,464.71 317.49,464.87 C318.26,465.04 318.79,464.03 319.62,462.99 C320.45,461.94 321.45,460.24 322.48,458.59 C323.50,456.94 324.68,454.63 325.78,453.09 C326.88,451.55 327.98,450.27 329.07,449.35 C330.17,448.44 331.46,447.81 332.37,447.59 C333.29,447.37 333.66,447.48 334.57,448.03 C335.49,448.58 336.77,449.68 337.87,450.89 C338.97,452.10 340.07,453.71 341.17,455.29 C342.27,456.87 343.37,458.88 344.47,460.35 C345.57,461.81 346.67,463.35 347.77,464.09 C348.87,464.82 349.97,465.00 351.07,464.75 C352.17,464.49 353.27,463.76 354.37,462.55 C355.46,461.34 356.56,459.07 357.66,457.49 C358.76,455.91 359.80,454.52 360.96,453.09 C362.12,451.66 363.41,449.76 364.63,448.91 C365.85,448.07 367.14,447.81 368.30,448.03 C369.46,448.25 370.50,449.21 371.60,450.23 C372.70,451.26 373.80,452.80 374.90,454.19 C376.00,455.58 377.10,457.20 378.20,458.59 C379.29,459.98 380.47,461.74 381.49,462.55 C382.52,463.35 383.44,463.72 384.35,463.43 C385.27,463.13 386.00,462.03 386.99,460.79 C387.98,459.54 389.19,457.34 390.29,455.95 C391.39,454.56 392.49,453.64 393.59,452.43 C394.69,451.22 395.86,450.05 396.89,448.69 C397.91,447.34 398.83,444.84 399.75,444.29 C400.66,443.74 401.40,444.55 402.39,445.39 C403.38,446.24 404.59,447.70 405.68,449.35 C406.78,451.00 407.88,453.02 408.98,455.29 C410.08,457.56 411.26,461.34 412.28,462.99 C413.31,464.64 414.22,464.89 415.14,465.19 C416.06,465.48 416.79,465.30 417.78,464.75 C418.77,464.20 419.98,463.10 421.08,461.89 C422.18,460.68 423.28,458.85 424.38,457.49 C425.48,456.13 426.58,454.74 427.68,453.75 C428.78,452.76 429.88,452.03 430.98,451.55 C432.07,451.08 433.17,450.82 434.27,450.89 C435.37,450.97 436.47,451.26 437.57,451.99 C438.67,452.72 439.77,453.82 440.87,455.29 C441.97,456.76 443.25,459.14 444.17,460.79 C445.09,462.44 445.45,464.38 446.37,465.19 C447.29,465.99 448.57,466.07 449.67,465.63 C450.77,465.19 451.87,463.72 452.97,462.55 C454.07,461.37 455.17,459.62 456.27,458.59 C457.37,457.56 458.46,457.05 459.56,456.39 C460.66,455.73 461.76,454.92 462.86,454.63 C463.96,454.34 465.06,454.52 466.16,454.63 C467.26,454.74 468.91,455.18 469.46,455.29" fill="none" stroke="#1f77b4" stroke-width="1.7" stroke-linejoin="round" stroke-linecap="square" clip-path="url(#c7)"/><path d="M57.50,465.19 C57.80,464.53 58.45,462.51 59.30,461.23 C60.15,459.95 61.31,458.55 62.60,457.49 C63.88,456.43 65.53,455.51 67.00,454.85 C68.46,454.19 70.11,453.64 71.39,453.53 C72.68,453.42 73.59,453.64 74.69,454.19 C75.79,454.74 76.89,455.73 77.99,456.83 C79.09,457.93 80.19,459.69 81.29,460.79 C82.39,461.89 83.67,462.80 84.59,463.43 C85.51,464.05 85.87,464.67 86.79,464.53 C87.70,464.38 88.99,463.72 90.09,462.55 C91.19,461.37 92.29,458.88 93.39,457.49 C94.49,456.10 95.59,455.00 96.68,454.19 C97.78,453.38 98.88,452.94 99.98,452.65 C101.08,452.36 102.00,452.36 103.28,452.43 C104.57,452.50 106.40,452.50 107.68,453.09 C108.96,453.68 109.88,454.85 110.98,455.95 C112.08,457.05 113.18,458.44 114.28,459.69 C115.38,460.93 116.66,462.58 117.58,463.43 C118.49,464.27 119.04,464.64 119.78,464.75 C120.51,464.86 121.06,465.11 121.98,464.09 C122.89,463.06 124.17,460.42 125.27,458.59 C126.37,456.76 127.47,454.56 128.57,453.09 C129.67,451.63 130.77,450.64 131.87,449.79 C132.97,448.95 134.25,448.40 135.17,448.03 C136.09,447.67 136.45,447.30 137.37,447.59 C138.29,447.89 139.57,448.99 140.67,449.79 C141.77,450.60 143.05,451.63 143.97,452.43 C144.88,453.24 145.25,453.42 146.17,454.63 C147.08,455.84 148.55,458.30 149.46,459.69 C150.38,461.08 150.93,462.33 151.66,462.99 C152.40,463.65 152.95,463.94 153.86,463.65 C154.78,463.35 156.31,462.44 157.16,461.23 C158.02,460.02 158.45,457.27 159.00,456.39 C159.55,455.51 159.91,456.50 160.46,455.95 C161.01,455.40 161.44,453.93 162.30,453.09 C163.15,452.25 164.50,451.37 165.60,450.89 C166.70,450.42 167.80,450.23 168.90,450.23 C170.00,450.23 171.10,450.53 172.20,450.89 C173.29,451.26 174.30,451.42 175.49,452.43 C176.68,453.44 178.35,456.65 179.34,456.94 C180.33,457.23 180.86,454.21 181.43,454.19 C182.00,454.17 182.16,456.17 182.75,456.83 C183.34,457.49 184.22,458.22 184.95,458.15 C185.68,458.08 186.34,457.12 187.15,456.39 C187.96,455.66 188.80,454.59 189.79,453.75 C190.78,452.91 191.99,452.17 193.09,451.33 C194.19,450.49 195.29,449.39 196.39,448.69 C197.49,448.00 198.59,447.63 199.68,447.15 C200.78,446.68 201.88,445.69 202.98,445.83 C204.08,445.98 205.18,447.19 206.28,448.03 C207.38,448.88 208.79,450.23 209.58,450.89 C210.37,451.55 210.31,451.23 211.00,452.00 C211.69,452.77 212.87,454.75 213.70,455.50 C214.53,456.25 215.17,456.42 216.00,456.50 C216.83,456.58 217.87,456.75 218.70,456.00 C219.53,455.25 220.17,453.42 221.00,452.00 C221.83,450.58 222.95,449.00 223.70,447.50 C224.45,446.00 224.88,444.42 225.50,443.00 C226.12,441.58 226.82,440.08 227.40,439.00 C227.98,437.92 228.40,437.08 229.00,436.50 C229.60,435.92 230.17,435.75 231.00,435.50 C231.83,435.25 233.00,435.08 234.00,435.00 C235.00,434.92 236.00,434.87 237.00,435.00 C238.00,435.13 238.90,435.05 240.00,435.80 C241.10,436.55 242.68,437.80 243.60,439.50 C244.52,441.20 244.88,443.75 245.50,446.00 C246.12,448.25 246.58,450.50 247.30,453.00 C248.02,455.50 249.02,459.08 249.80,461.00 C250.58,462.92 251.22,463.83 252.00,464.50 C252.78,465.17 253.67,465.50 254.50,465.00 C255.33,464.50 255.92,463.33 257.00,461.50 C258.08,459.67 259.67,456.58 261.00,454.00 C262.33,451.42 263.83,448.08 265.00,446.00 C266.17,443.92 267.00,442.50 268.00,441.50 C269.00,440.50 270.00,440.00 271.00,440.00 C272.00,440.00 273.00,440.33 274.00,441.50 C275.00,442.67 276.00,444.92 277.00,447.00 C278.00,449.08 279.00,451.75 280.00,454.00 C281.00,456.25 282.00,459.00 283.00,460.50 C284.00,462.00 285.00,462.83 286.00,463.00 C287.00,463.17 287.83,462.83 289.00,461.50 C290.17,460.17 291.67,456.92 293.00,455.00 C294.33,453.08 295.67,451.25 297.00,450.00 C298.33,448.75 299.83,448.00 301.00,447.50 C302.17,447.00 303.00,446.75 304.00,447.00 C305.00,447.25 305.83,447.67 307.00,449.00 C308.17,450.33 309.67,452.83 311.00,455.00 C312.33,457.17 313.92,460.28 315.00,462.00 C316.08,463.72 316.72,465.00 317.49,465.34 C318.26,465.69 318.79,465.03 319.62,464.09 C320.45,463.14 321.45,461.41 322.48,459.69 C323.50,457.97 324.68,455.40 325.78,453.75 C326.88,452.10 327.98,450.75 329.07,449.79 C330.17,448.84 331.46,448.33 332.37,448.03 C333.29,447.74 333.66,447.67 334.57,448.03 C335.49,448.40 336.77,449.13 337.87,450.23 C338.97,451.33 340.07,453.05 341.17,454.63 C342.27,456.21 343.37,458.22 344.47,459.69 C345.57,461.15 346.67,462.58 347.77,463.43 C348.87,464.27 349.97,464.75 351.07,464.75 C352.17,464.75 353.27,464.45 354.37,463.43 C355.46,462.40 356.56,460.20 357.66,458.59 C358.76,456.98 359.80,455.22 360.96,453.75 C362.12,452.28 363.41,450.71 364.63,449.79 C365.85,448.88 367.14,448.07 368.30,448.25 C369.46,448.44 370.50,449.72 371.60,450.89 C372.70,452.07 373.80,453.82 374.90,455.29 C376.00,456.76 377.10,458.41 378.20,459.69 C379.29,460.97 380.47,462.25 381.49,462.99 C382.52,463.72 383.44,464.27 384.35,464.09 C385.27,463.90 386.00,463.10 386.99,461.89 C387.98,460.68 389.19,458.30 390.29,456.83 C391.39,455.36 392.49,454.45 393.59,453.09 C394.69,451.74 395.86,450.27 396.89,448.69 C397.91,447.12 398.83,444.26 399.75,443.63 C400.66,443.01 401.40,444.11 402.39,444.95 C403.38,445.80 404.59,447.15 405.68,448.69 C406.78,450.23 407.88,452.17 408.98,454.19 C410.08,456.21 411.26,459.14 412.28,460.79 C413.31,462.44 414.22,463.43 415.14,464.09 C416.06,464.75 416.79,465.11 417.78,464.75 C418.77,464.38 419.98,463.21 421.08,461.89 C422.18,460.57 423.28,458.30 424.38,456.83 C425.48,455.36 426.58,454.08 427.68,453.09 C428.78,452.10 429.88,451.37 430.98,450.89 C432.07,450.42 433.17,450.12 434.27,450.23 C435.37,450.34 436.47,450.89 437.57,451.55 C438.67,452.21 439.77,452.83 440.87,454.19 C441.97,455.55 443.25,458.04 444.17,459.69 C445.09,461.34 445.45,463.17 446.37,464.09 C447.29,465.00 448.57,465.44 449.67,465.19 C450.77,464.93 451.87,463.72 452.97,462.55 C454.07,461.37 455.17,459.47 456.27,458.15 C457.37,456.83 458.46,455.47 459.56,454.63 C460.66,453.79 461.76,453.42 462.86,453.09 C463.96,452.76 465.06,452.65 466.16,452.65 C467.26,452.65 468.91,453.02 469.46,453.09" fill="none" stroke="#ff7f0e" stroke-width="1.7" stroke-linejoin="round" stroke-linecap="square" clip-path="url(#c7)"/><rect x="209.0" y="437.4" width="108.4" height="31.0" rx="1.9" fill="#fff" fill-opacity="0.84" stroke="#ccc" stroke-opacity="0.8" stroke-width="0.95"/><line x1="212.83" y1="444.88" x2="231.96" y2="444.88" stroke="#1f77b4" stroke-width="1.45"/><line x1="212.83" y1="458.65999999999997" x2="231.96" y2="458.65999999999997" stroke="#ff7f0e" stroke-width="1.45"/><text x="239.6" y="448.48" class="t">Original_client8</text><text x="239.6" y="462.26" class="t">Predict_client8</text><rect x="57.5" y="432.4" width="412.0" height="39.5" fill="none" stroke="#000" stroke-width="0.78"/><line x1="54.15" y1="446.8" x2="57.5" y2="446.8" stroke="#000" stroke-width="0.78"/><text x="50.8" y="450.3" class="t" text-anchor="end">10000</text><line x1="54.15" y1="470.6" x2="57.5" y2="470.6" stroke="#000" stroke-width="0.78"/><text x="50.8" y="474.1" class="t" text-anchor="end">5000</text><line x1="57.50" y1="471.9" x2="57.50" y2="475.25" stroke="#000" stroke-width="0.78"/><text x="57.50" y="485.79999999999995" class="t" text-anchor="middle">0</text><line x1="126.17" y1="471.9" x2="126.17" y2="475.25" stroke="#000" stroke-width="0.78"/><text x="126.17" y="485.79999999999995" class="t" text-anchor="middle">50</text><line x1="194.83" y1="471.9" x2="194.83" y2="475.25" stroke="#000" stroke-width="0.78"/><text x="194.83" y="485.79999999999995" class="t" text-anchor="middle">100</text><line x1="263.50" y1="471.9" x2="263.50" y2="475.25" stroke="#000" stroke-width="0.78"/><text x="263.50" y="485.79999999999995" class="t" text-anchor="middle">150</text><line x1="332.17" y1="471.9" x2="332.17" y2="475.25" stroke="#000" stroke-width="0.78"/><text x="332.17" y="485.79999999999995" class="t" text-anchor="middle">200</text><line x1="400.83" y1="471.9" x2="400.83" y2="475.25" stroke="#000" stroke-width="0.78"/><text x="400.83" y="485.79999999999995" class="t" text-anchor="middle">250</text><line x1="469.50" y1="471.9" x2="469.50" y2="475.25" stroke="#000" stroke-width="0.78"/><text x="469.50" y="485.79999999999995" class="t" text-anchor="middle">300</text></g>
<g><line x1="57.50" y1="493.4" x2="57.50" y2="532.9" class="gr"/><line x1="126.17" y1="493.4" x2="126.17" y2="532.9" class="gr"/><line x1="194.83" y1="493.4" x2="194.83" y2="532.9" class="gr"/><line x1="263.50" y1="493.4" x2="263.50" y2="532.9" class="gr"/><line x1="332.17" y1="493.4" x2="332.17" y2="532.9" class="gr"/><line x1="400.83" y1="493.4" x2="400.83" y2="532.9" class="gr"/><line x1="469.50" y1="493.4" x2="469.50" y2="532.9" class="gr"/><line x1="57.5" y1="506.8" x2="469.5" y2="506.8" class="gr"/><line x1="57.5" y1="522.4" x2="469.5" y2="522.4" class="gr"/><path d="M57.50,526.19 C57.80,525.64 58.45,523.91 59.30,522.89 C60.15,521.86 61.31,520.87 62.60,520.03 C63.88,519.19 65.53,518.45 67.00,517.83 C68.46,517.21 70.29,516.62 71.39,516.29 C72.49,515.96 72.68,515.59 73.59,515.85 C74.51,516.11 75.79,516.84 76.89,517.83 C77.99,518.82 79.09,520.76 80.19,521.79 C81.29,522.81 82.39,523.44 83.49,523.99 C84.59,524.54 85.69,525.27 86.79,525.09 C87.89,524.90 88.99,523.80 90.09,522.89 C91.19,521.97 92.29,520.43 93.39,519.59 C94.49,518.75 95.59,518.38 96.68,517.83 C97.78,517.28 98.88,516.47 99.98,516.29 C101.08,516.11 102.00,516.36 103.28,516.73 C104.57,517.10 106.21,517.83 107.68,518.49 C109.15,519.15 110.98,519.96 112.08,520.69 C113.18,521.42 113.54,522.34 114.28,522.89 C115.01,523.44 115.56,523.55 116.48,523.99 C117.39,524.43 118.86,525.53 119.78,525.53 C120.69,525.53 121.06,524.98 121.98,523.99 C122.89,523.00 124.17,520.87 125.27,519.59 C126.37,518.31 127.47,517.32 128.57,516.29 C129.67,515.26 130.77,514.13 131.87,513.43 C132.97,512.74 134.07,512.26 135.17,512.11 C136.27,511.97 137.37,512.04 138.47,512.55 C139.57,513.07 140.67,514.20 141.77,515.19 C142.87,516.18 143.97,517.39 145.07,518.49 C146.17,519.59 147.27,520.95 148.37,521.79 C149.46,522.63 150.75,523.25 151.66,523.55 C152.58,523.84 152.95,524.02 153.86,523.55 C154.78,523.07 156.31,521.53 157.16,520.69 C158.02,519.85 158.45,519.22 159.00,518.49 C159.55,517.76 159.91,517.02 160.46,516.29 C161.01,515.56 161.44,514.93 162.30,514.09 C163.15,513.25 164.50,511.78 165.60,511.23 C166.70,510.68 167.80,510.68 168.90,510.79 C170.00,510.90 171.10,511.34 172.20,511.89 C173.29,512.44 174.39,513.36 175.49,514.09 C176.59,514.82 177.99,515.37 178.79,516.29 C179.60,517.21 179.86,519.59 180.33,519.59 C180.81,519.59 181.17,516.47 181.65,516.29 C182.13,516.11 182.38,517.76 183.19,518.49 C184.00,519.22 185.39,520.69 186.49,520.69 C187.59,520.69 188.69,519.77 189.79,518.49 C190.89,517.21 191.99,514.71 193.09,512.99 C194.19,511.27 195.29,509.25 196.39,508.15 C197.49,507.05 198.59,506.61 199.68,506.39 C200.78,506.17 201.88,506.65 202.98,506.83 C204.08,507.02 205.18,507.02 206.28,507.49 C207.38,507.97 208.79,508.94 209.58,509.69 C210.37,510.44 210.43,510.95 211.00,512.00 C211.57,513.05 212.17,514.43 213.00,516.00 C213.83,517.57 215.08,520.27 216.00,521.40 C216.92,522.53 217.67,522.80 218.50,522.80 C219.33,522.80 220.08,522.53 221.00,521.40 C221.92,520.27 223.17,517.57 224.00,516.00 C224.83,514.43 225.23,513.38 226.00,512.00 C226.77,510.62 227.85,509.03 228.60,507.70 C229.35,506.37 229.87,505.03 230.50,504.00 C231.13,502.97 231.65,502.03 232.40,501.50 C233.15,500.97 234.17,500.80 235.00,500.80 C235.83,500.80 236.57,500.80 237.40,501.50 C238.23,502.20 239.18,503.55 240.00,505.00 C240.82,506.45 241.55,508.37 242.30,510.20 C243.05,512.03 243.67,513.93 244.50,516.00 C245.33,518.07 246.38,521.17 247.30,522.60 C248.22,524.03 249.17,524.20 250.00,524.60 C250.83,525.00 251.47,525.27 252.30,525.00 C253.13,524.73 254.05,524.00 255.00,523.00 C255.95,522.00 256.83,520.50 258.00,519.00 C259.17,517.50 260.67,515.50 262.00,514.00 C263.33,512.50 264.75,510.92 266.00,510.00 C267.25,509.08 268.33,508.67 269.50,508.50 C270.67,508.33 271.92,508.25 273.00,509.00 C274.08,509.75 275.00,511.33 276.00,513.00 C277.00,514.67 278.00,517.00 279.00,519.00 C280.00,521.00 281.00,523.50 282.00,525.00 C283.00,526.50 284.00,527.58 285.00,528.00 C286.00,528.42 287.00,528.17 288.00,527.50 C289.00,526.83 289.83,525.42 291.00,524.00 C292.17,522.58 293.67,520.58 295.00,519.00 C296.33,517.42 297.83,515.50 299.00,514.50 C300.17,513.50 301.00,513.17 302.00,513.00 C303.00,512.83 303.83,512.83 305.00,513.50 C306.17,514.17 307.67,515.58 309.00,517.00 C310.33,518.42 311.67,520.35 313.00,522.00 C314.33,523.65 315.89,526.20 316.99,526.89 C318.09,527.59 318.70,527.04 319.62,526.19 C320.53,525.34 321.45,523.18 322.48,521.79 C323.50,520.40 324.68,519.00 325.78,517.83 C326.88,516.66 327.98,515.56 329.07,514.75 C330.17,513.94 331.46,513.28 332.37,512.99 C333.29,512.70 333.66,512.63 334.57,512.99 C335.49,513.36 336.77,514.09 337.87,515.19 C338.97,516.29 340.07,518.20 341.17,519.59 C342.27,520.98 343.37,522.63 344.47,523.55 C345.57,524.46 346.67,524.72 347.77,525.09 C348.87,525.45 349.97,525.93 351.07,525.75 C352.17,525.56 353.27,525.01 354.37,523.99 C355.46,522.96 356.56,520.87 357.66,519.59 C358.76,518.31 359.80,517.35 360.96,516.29 C362.12,515.23 363.41,513.94 364.63,513.21 C365.85,512.48 367.14,511.75 368.30,511.89 C369.46,512.04 370.50,513.17 371.60,514.09 C372.70,515.01 373.80,516.11 374.90,517.39 C376.00,518.67 377.10,520.51 378.20,521.79 C379.29,523.07 380.47,524.43 381.49,525.09 C382.52,525.75 383.44,526.00 384.35,525.75 C385.27,525.49 386.00,524.57 386.99,523.55 C387.98,522.52 389.19,520.69 390.29,519.59 C391.39,518.49 392.49,517.87 393.59,516.95 C394.69,516.03 395.86,515.04 396.89,514.09 C397.91,513.14 398.83,511.86 399.75,511.23 C400.66,510.61 401.40,510.06 402.39,510.35 C403.38,510.65 404.59,511.82 405.68,512.99 C406.78,514.16 408.07,515.74 408.98,517.39 C409.90,519.04 410.45,521.42 411.18,522.89 C411.92,524.35 412.47,525.56 413.38,526.19 C414.30,526.81 415.58,526.92 416.68,526.63 C417.78,526.33 418.88,525.42 419.98,524.43 C421.08,523.44 422.18,521.79 423.28,520.69 C424.38,519.59 425.48,518.67 426.58,517.83 C427.68,516.99 428.78,516.14 429.88,515.63 C430.98,515.12 432.07,514.82 433.17,514.75 C434.27,514.68 435.37,514.82 436.47,515.19 C437.57,515.56 438.67,516.03 439.77,516.95 C440.87,517.87 442.15,519.33 443.07,520.69 C443.99,522.04 444.43,524.10 445.27,525.09 C446.11,526.08 447.21,526.44 448.13,526.63 C449.04,526.81 449.78,526.92 450.77,526.19 C451.76,525.45 452.97,523.33 454.07,522.23 C455.17,521.13 456.27,520.21 457.37,519.59 C458.46,518.97 459.56,518.78 460.66,518.49 C461.76,518.20 462.86,517.83 463.96,517.83 C465.06,517.83 466.35,518.27 467.26,518.49 C468.18,518.71 469.09,519.04 469.46,519.15" fill="none" stroke="#1f77b4" stroke-width="1.7" stroke-linejoin="round" stroke-linecap="square" clip-path="url(#c8)"/><path d="M57.50,528.39 C57.80,527.65 58.45,525.27 59.30,523.99 C60.15,522.70 61.31,521.61 62.60,520.69 C63.88,519.77 65.53,519.15 67.00,518.49 C68.46,517.83 70.29,517.10 71.39,516.73 C72.49,516.36 72.68,516.00 73.59,516.29 C74.51,516.58 75.79,517.50 76.89,518.49 C77.99,519.48 79.09,521.13 80.19,522.23 C81.29,523.33 82.39,524.43 83.49,525.09 C84.59,525.75 85.69,526.37 86.79,526.19 C87.89,526.00 88.99,524.90 90.09,523.99 C91.19,523.07 92.29,521.72 93.39,520.69 C94.49,519.66 95.59,518.49 96.68,517.83 C97.78,517.17 98.88,516.91 99.98,516.73 C101.08,516.55 102.00,516.55 103.28,516.73 C104.57,516.91 106.21,517.28 107.68,517.83 C109.15,518.38 110.98,519.30 112.08,520.03 C113.18,520.76 113.54,521.57 114.28,522.23 C115.01,522.89 115.56,523.40 116.48,523.99 C117.39,524.57 118.86,525.56 119.78,525.75 C120.69,525.93 121.06,525.93 121.98,525.09 C122.89,524.24 124.17,522.08 125.27,520.69 C126.37,519.30 127.47,517.90 128.57,516.73 C129.67,515.56 130.77,514.38 131.87,513.65 C132.97,512.92 134.07,512.52 135.17,512.33 C136.27,512.15 137.37,512.15 138.47,512.55 C139.57,512.96 140.67,513.87 141.77,514.75 C142.87,515.63 143.97,516.66 145.07,517.83 C146.17,519.00 147.27,520.84 148.37,521.79 C149.46,522.74 150.75,523.18 151.66,523.55 C152.58,523.91 152.95,524.28 153.86,523.99 C154.78,523.69 156.31,522.59 157.16,521.79 C158.02,520.98 158.45,519.88 159.00,519.15 C159.55,518.42 159.91,518.12 160.46,517.39 C161.01,516.66 161.44,515.78 162.30,514.75 C163.15,513.72 164.50,511.97 165.60,511.23 C166.70,510.50 167.80,510.35 168.90,510.35 C170.00,510.35 171.10,510.61 172.20,511.23 C173.29,511.86 174.39,513.14 175.49,514.09 C176.59,515.04 177.88,516.22 178.79,516.95 C179.71,517.68 180.26,518.05 180.99,518.49 C181.72,518.93 182.27,519.22 183.19,519.59 C184.11,519.96 185.39,520.98 186.49,520.69 C187.59,520.40 188.69,519.19 189.79,517.83 C190.89,516.47 191.99,514.16 193.09,512.55 C194.19,510.94 195.29,509.18 196.39,508.15 C197.49,507.13 198.59,506.69 199.68,506.39 C200.78,506.10 201.88,506.32 202.98,506.39 C204.08,506.47 205.18,506.28 206.28,506.83 C207.38,507.38 208.79,508.67 209.58,509.69 C210.37,510.72 210.43,511.78 211.00,513.00 C211.57,514.22 212.17,515.50 213.00,517.00 C213.83,518.50 215.08,520.92 216.00,522.00 C216.92,523.08 217.67,523.50 218.50,523.50 C219.33,523.50 220.08,523.17 221.00,522.00 C221.92,520.83 223.17,518.17 224.00,516.50 C224.83,514.83 225.23,513.47 226.00,512.00 C226.77,510.53 227.85,509.03 228.60,507.70 C229.35,506.37 229.87,504.98 230.50,504.00 C231.13,503.02 231.65,502.30 232.40,501.80 C233.15,501.30 234.17,501.00 235.00,501.00 C235.83,501.00 236.57,501.13 237.40,501.80 C238.23,502.47 239.18,503.60 240.00,505.00 C240.82,506.40 241.55,508.37 242.30,510.20 C243.05,512.03 243.67,513.93 244.50,516.00 C245.33,518.07 246.38,521.10 247.30,522.60 C248.22,524.10 249.17,524.55 250.00,525.00 C250.83,525.45 251.47,525.55 252.30,525.30 C253.13,525.05 254.05,524.47 255.00,523.50 C255.95,522.53 256.83,521.00 258.00,519.50 C259.17,518.00 260.67,516.00 262.00,514.50 C263.33,513.00 264.75,511.50 266.00,510.50 C267.25,509.50 268.33,508.75 269.50,508.50 C270.67,508.25 271.92,508.25 273.00,509.00 C274.08,509.75 275.00,511.25 276.00,513.00 C277.00,514.75 278.00,517.42 279.00,519.50 C280.00,521.58 281.00,524.05 282.00,525.50 C283.00,526.95 284.00,527.78 285.00,528.20 C286.00,528.62 287.00,528.62 288.00,528.00 C289.00,527.38 289.83,526.00 291.00,524.50 C292.17,523.00 293.67,520.67 295.00,519.00 C296.33,517.33 297.83,515.50 299.00,514.50 C300.17,513.50 301.00,513.17 302.00,513.00 C303.00,512.83 303.83,512.83 305.00,513.50 C306.17,514.17 307.67,515.50 309.00,517.00 C310.33,518.50 311.67,520.75 313.00,522.50 C314.33,524.25 315.89,526.68 316.99,527.47 C318.09,528.27 318.70,528.05 319.62,527.29 C320.53,526.52 321.45,524.35 322.48,522.89 C323.50,521.42 324.68,519.77 325.78,518.49 C326.88,517.21 327.98,516.03 329.07,515.19 C330.17,514.35 331.46,513.72 332.37,513.43 C333.29,513.14 333.66,513.14 334.57,513.43 C335.49,513.72 336.77,514.24 337.87,515.19 C338.97,516.14 340.07,517.87 341.17,519.15 C342.27,520.43 343.37,521.90 344.47,522.89 C345.57,523.88 346.67,524.54 347.77,525.09 C348.87,525.64 349.97,526.30 351.07,526.19 C352.17,526.08 353.27,525.34 354.37,524.43 C355.46,523.51 356.56,521.93 357.66,520.69 C358.76,519.44 359.80,518.12 360.96,516.95 C362.12,515.78 363.41,514.60 364.63,513.65 C365.85,512.70 367.14,511.34 368.30,511.23 C369.46,511.12 370.50,512.04 371.60,512.99 C372.70,513.94 373.80,515.56 374.90,516.95 C376.00,518.34 377.10,519.99 378.20,521.35 C379.29,522.70 380.47,524.28 381.49,525.09 C382.52,525.89 383.44,526.37 384.35,526.19 C385.27,526.00 386.00,525.01 386.99,523.99 C387.98,522.96 389.19,521.20 390.29,520.03 C391.39,518.86 392.49,518.05 393.59,516.95 C394.69,515.85 395.86,514.46 396.89,513.43 C397.91,512.41 398.83,511.42 399.75,510.79 C400.66,510.17 401.40,509.51 402.39,509.69 C403.38,509.88 404.59,510.79 405.68,511.89 C406.78,512.99 408.07,514.64 408.98,516.29 C409.90,517.94 410.45,520.21 411.18,521.79 C411.92,523.36 412.47,524.83 413.38,525.75 C414.30,526.66 415.58,527.40 416.68,527.29 C417.78,527.18 418.88,526.08 419.98,525.09 C421.08,524.10 422.18,522.56 423.28,521.35 C424.38,520.14 425.48,518.86 426.58,517.83 C427.68,516.80 428.78,515.89 429.88,515.19 C430.98,514.49 432.07,513.83 433.17,513.65 C434.27,513.47 435.37,513.76 436.47,514.09 C437.57,514.42 438.67,514.71 439.77,515.63 C440.87,516.55 442.15,518.12 443.07,519.59 C443.99,521.06 444.43,523.14 445.27,524.43 C446.11,525.71 447.21,526.92 448.13,527.29 C449.04,527.65 449.78,527.36 450.77,526.63 C451.76,525.89 452.97,524.06 454.07,522.89 C455.17,521.72 456.27,520.43 457.37,519.59 C458.46,518.75 459.56,518.27 460.66,517.83 C461.76,517.39 462.86,517.10 463.96,516.95 C465.06,516.80 466.35,516.88 467.26,516.95 C468.18,517.02 469.09,517.32 469.46,517.39" fill="none" stroke="#ff7f0e" stroke-width="1.7" stroke-linejoin="round" stroke-linecap="square" clip-path="url(#c8)"/><rect x="209.0" y="497.0" width="108.4" height="31.0" rx="1.9" fill="#fff" fill-opacity="0.84" stroke="#ccc" stroke-opacity="0.8" stroke-width="0.95"/><line x1="212.83" y1="504.48" x2="231.96" y2="504.48" stroke="#1f77b4" stroke-width="1.45"/><line x1="212.83" y1="518.26" x2="231.96" y2="518.26" stroke="#ff7f0e" stroke-width="1.45"/><text x="239.6" y="508.08000000000004" class="t">Original_client9</text><text x="239.6" y="521.86" class="t">Predict_client9</text><rect x="57.5" y="493.4" width="412.0" height="39.5" fill="none" stroke="#000" stroke-width="0.78"/><line x1="54.15" y1="506.8" x2="57.5" y2="506.8" stroke="#000" stroke-width="0.78"/><text x="50.8" y="510.3" class="t" text-anchor="end">7500</text><line x1="54.15" y1="522.4" x2="57.5" y2="522.4" stroke="#000" stroke-width="0.78"/><text x="50.8" y="525.9" class="t" text-anchor="end">5000</text><line x1="57.50" y1="532.9" x2="57.50" y2="536.25" stroke="#000" stroke-width="0.78"/><text x="57.50" y="546.8" class="t" text-anchor="middle">0</text><line x1="126.17" y1="532.9" x2="126.17" y2="536.25" stroke="#000" stroke-width="0.78"/><text x="126.17" y="546.8" class="t" text-anchor="middle">50</text><line x1="194.83" y1="532.9" x2="194.83" y2="536.25" stroke="#000" stroke-width="0.78"/><text x="194.83" y="546.8" class="t" text-anchor="middle">100</text><line x1="263.50" y1="532.9" x2="263.50" y2="536.25" stroke="#000" stroke-width="0.78"/><text x="263.50" y="546.8" class="t" text-anchor="middle">150</text><line x1="332.17" y1="532.9" x2="332.17" y2="536.25" stroke="#000" stroke-width="0.78"/><text x="332.17" y="546.8" class="t" text-anchor="middle">200</text><line x1="400.83" y1="532.9" x2="400.83" y2="536.25" stroke="#000" stroke-width="0.78"/><text x="400.83" y="546.8" class="t" text-anchor="middle">250</text><line x1="469.50" y1="532.9" x2="469.50" y2="536.25" stroke="#000" stroke-width="0.78"/><text x="469.50" y="546.8" class="t" text-anchor="middle">300</text></g>
<text x="0" y="0" class="t" style="font-size:11.3px" text-anchor="middle" transform="translate(11.9,277.7) rotate(-90)">Energy consumption (MW)</text>
</g>
</svg>
</div></body></html>
